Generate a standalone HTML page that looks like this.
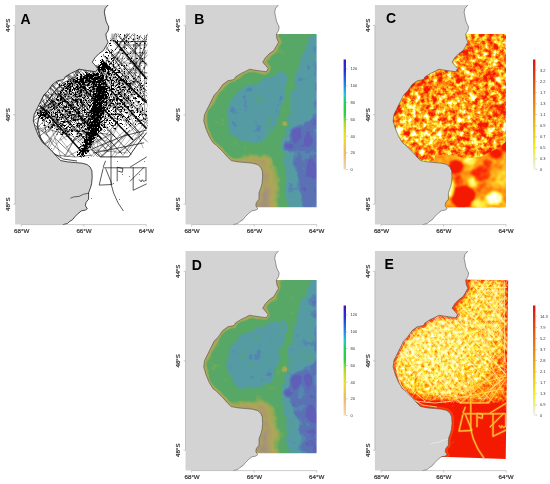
<!DOCTYPE html>
<html><head><meta charset="utf-8"><title>Figure</title><style>html,body{margin:0;padding:0;background:#fff}svg{display:block}</style></head><body>
<svg width="550" height="484" viewBox="0 0 550 484" font-family="'Liberation Sans', sans-serif">
<defs>
<path id="land" d="M0,0 L93.0,0.0 L90.1,3.3 L89.2,7.2 L90.1,11.7 L91.0,16.2 L92.4,19.4 L93.7,21.9 L93.0,25.8 L90.8,29.0 L91.4,33.5 L93.0,37.3 L90.8,41.2 L88.2,45.6 L83.7,48.8 L79.9,52.7 L77.2,57.2 L80.1,60.4 L82.7,63.6 L80.8,66.8 L76.9,66.2 L71.8,65.5 L68.0,64.9 L64.1,64.2 L60.3,66.2 L55.1,68.7 L50.0,71.9 L48.7,74.5 L42.3,75.8 L37.2,79.6 L32.7,86.0 L28.7,90.1 L25.5,96.5 L22.3,103.0 L19.1,109.4 L18.2,115.8 L20.4,123.5 L23.6,131.2 L27.4,137.6 L30.9,140.3 L37.3,146.7 L42.4,152.4 L45.7,155.6 L52.7,156.9 L60.4,157.6 L66.8,158.2 L71.9,159.5 L75.1,162.1 L76.8,165.9 L77.1,172.3 L76.5,178.7 L75.4,182.7 L73.5,187.8 L73.5,194.2 L70.9,197.4 L70.3,200.6 L72.2,203.8 L70.3,205.1 L66.4,205.8 L63.2,208.3 L60.0,211.5 L57.4,214.7 L54.2,216.7 L52.3,218.6 L47.8,219.6 L0,219.6 Z"/>
<path id="coast" d="M93.0,0.0 L90.1,3.3 L89.2,7.2 L90.1,11.7 L91.0,16.2 L92.4,19.4 L93.7,21.9 L93.0,25.8 L90.8,29.0 L91.4,33.5 L93.0,37.3 L90.8,41.2 L88.2,45.6 L83.7,48.8 L79.9,52.7 L77.2,57.2 L80.1,60.4 L82.7,63.6 L80.8,66.8 L76.9,66.2 L71.8,65.5 L68.0,64.9 L64.1,64.2 L60.3,66.2 L55.1,68.7 L50.0,71.9 L48.7,74.5 L42.3,75.8 L37.2,79.6 L32.7,86.0 L28.7,90.1 L25.5,96.5 L22.3,103.0 L19.1,109.4 L18.2,115.8 L20.4,123.5 L23.6,131.2 L27.4,137.6 L30.9,140.3 L37.3,146.7 L42.4,152.4 L45.7,155.6 L52.7,156.9 L60.4,157.6 L66.8,158.2 L71.9,159.5 L75.1,162.1 L76.8,165.9 L77.1,172.3 L76.5,178.7 L75.4,182.7 L73.5,187.8 L73.5,194.2 L70.9,197.4 L70.3,200.6 L72.2,203.8 L70.3,205.1 L66.4,205.8 L63.2,208.3 L60.0,211.5 L57.4,214.7 L54.2,216.7 L52.3,218.6 L47.8,219.6"/>
<clipPath id="dc"><rect x="10.0" y="29.0" width="121.1" height="173.2"/></clipPath>
<clipPath id="dcE"><path d="M10,27.6 L133.3,29.3 L130.8,208.1 L10,203.8 Z"/></clipPath>
<filter id="fB" x="0" y="20" width="140" height="195" filterUnits="userSpaceOnUse" color-interpolation-filters="sRGB">
<feGaussianBlur in="SourceGraphic" stdDeviation="1.8" result="b"/>
<feTurbulence type="fractalNoise" baseFrequency="0.09" numOctaves="4" seed="3" result="n"/>
<feColorMatrix in="n" type="matrix" values="1 0 0 0 0 1 0 0 0 0 1 0 0 0 0 0 0 0 0 1" result="n1"/>
<feComposite in="b" in2="n1" operator="arithmetic" k1="0" k2="1" k3="0.26" k4="-0.13" result="m"/>
<feComponentTransfer in="m"><feFuncR type="table" tableValues="0.620 0.624 0.627 0.631 0.635 0.639 0.643 0.647 0.651 0.654 0.657 0.660 0.664 0.667 0.670 0.673 0.676 0.679 0.682 0.682 0.681 0.680 0.679 0.678 0.678 0.677 0.676 0.675 0.675 0.663 0.651 0.639 0.627 0.616 0.604 0.592 0.580 0.557 0.533 0.510 0.486 0.463 0.439 0.414 0.390 0.365 0.345 0.345 0.345 0.345 0.345 0.345 0.345 0.345 0.345 0.345 0.345 0.345 0.345 0.345 0.341 0.337 0.337 0.337 0.337 0.337 0.337 0.337 0.337 0.337 0.337 0.337 0.337 0.337 0.337 0.334 0.333 0.333 0.333 0.333 0.343 0.353 0.353 0.353 0.353 0.353 0.353 0.353 0.353 0.353 0.365 0.376 0.376 0.376 0.376 0.376 0.376 0.376 0.376 0.376 0.376"/><feFuncG type="table" tableValues="0.557 0.560 0.563 0.566 0.569 0.572 0.575 0.577 0.580 0.584 0.588 0.592 0.596 0.600 0.604 0.608 0.612 0.616 0.620 0.624 0.627 0.631 0.635 0.639 0.643 0.647 0.651 0.655 0.659 0.660 0.661 0.662 0.663 0.664 0.665 0.666 0.667 0.667 0.667 0.667 0.667 0.667 0.667 0.665 0.663 0.660 0.659 0.659 0.659 0.659 0.659 0.659 0.659 0.659 0.659 0.659 0.659 0.659 0.659 0.659 0.647 0.635 0.635 0.635 0.622 0.608 0.608 0.608 0.608 0.608 0.608 0.608 0.608 0.608 0.594 0.547 0.533 0.533 0.533 0.533 0.490 0.447 0.447 0.447 0.447 0.447 0.447 0.447 0.447 0.447 0.412 0.376 0.376 0.376 0.376 0.376 0.376 0.376 0.376 0.376 0.376"/><feFuncB type="table" tableValues="0.502 0.499 0.496 0.493 0.490 0.487 0.484 0.481 0.478 0.470 0.461 0.453 0.444 0.435 0.427 0.418 0.409 0.401 0.392 0.387 0.383 0.378 0.373 0.369 0.364 0.359 0.355 0.350 0.345 0.344 0.343 0.342 0.341 0.340 0.339 0.338 0.337 0.341 0.345 0.349 0.353 0.357 0.361 0.371 0.381 0.392 0.400 0.400 0.400 0.400 0.400 0.400 0.400 0.400 0.400 0.400 0.400 0.400 0.400 0.400 0.461 0.522 0.522 0.522 0.584 0.647 0.647 0.647 0.647 0.647 0.647 0.647 0.647 0.647 0.655 0.682 0.690 0.690 0.690 0.690 0.698 0.706 0.706 0.706 0.706 0.706 0.706 0.706 0.706 0.706 0.714 0.722 0.722 0.722 0.722 0.722 0.722 0.722 0.722 0.722 0.722"/><feFuncA type="linear" slope="0" intercept="1"/></feComponentTransfer>
</filter>
<filter id="fD" x="0" y="20" width="140" height="195" filterUnits="userSpaceOnUse" color-interpolation-filters="sRGB">
<feGaussianBlur in="SourceGraphic" stdDeviation="1.8" result="b"/>
<feTurbulence type="fractalNoise" baseFrequency="0.09" numOctaves="4" seed="11" result="n"/>
<feColorMatrix in="n" type="matrix" values="1 0 0 0 0 1 0 0 0 0 1 0 0 0 0 0 0 0 0 1" result="n1"/>
<feComposite in="b" in2="n1" operator="arithmetic" k1="0" k2="1" k3="0.26" k4="-0.13" result="m"/>
<feComponentTransfer in="m"><feFuncR type="table" tableValues="0.620 0.624 0.627 0.631 0.635 0.639 0.643 0.647 0.651 0.654 0.657 0.660 0.664 0.667 0.670 0.673 0.676 0.679 0.682 0.682 0.681 0.680 0.679 0.678 0.678 0.677 0.676 0.675 0.675 0.663 0.651 0.639 0.627 0.616 0.604 0.592 0.580 0.557 0.533 0.510 0.486 0.463 0.439 0.414 0.390 0.365 0.345 0.345 0.345 0.345 0.345 0.345 0.345 0.345 0.345 0.345 0.345 0.345 0.345 0.345 0.341 0.337 0.337 0.337 0.337 0.337 0.337 0.337 0.337 0.337 0.337 0.337 0.337 0.337 0.337 0.334 0.333 0.333 0.333 0.333 0.343 0.353 0.353 0.353 0.353 0.353 0.353 0.353 0.353 0.353 0.365 0.376 0.376 0.376 0.376 0.376 0.376 0.376 0.376 0.376 0.376"/><feFuncG type="table" tableValues="0.557 0.560 0.563 0.566 0.569 0.572 0.575 0.577 0.580 0.584 0.588 0.592 0.596 0.600 0.604 0.608 0.612 0.616 0.620 0.624 0.627 0.631 0.635 0.639 0.643 0.647 0.651 0.655 0.659 0.660 0.661 0.662 0.663 0.664 0.665 0.666 0.667 0.667 0.667 0.667 0.667 0.667 0.667 0.665 0.663 0.660 0.659 0.659 0.659 0.659 0.659 0.659 0.659 0.659 0.659 0.659 0.659 0.659 0.659 0.659 0.647 0.635 0.635 0.635 0.622 0.608 0.608 0.608 0.608 0.608 0.608 0.608 0.608 0.608 0.594 0.547 0.533 0.533 0.533 0.533 0.490 0.447 0.447 0.447 0.447 0.447 0.447 0.447 0.447 0.447 0.412 0.376 0.376 0.376 0.376 0.376 0.376 0.376 0.376 0.376 0.376"/><feFuncB type="table" tableValues="0.502 0.499 0.496 0.493 0.490 0.487 0.484 0.481 0.478 0.470 0.461 0.453 0.444 0.435 0.427 0.418 0.409 0.401 0.392 0.387 0.383 0.378 0.373 0.369 0.364 0.359 0.355 0.350 0.345 0.344 0.343 0.342 0.341 0.340 0.339 0.338 0.337 0.341 0.345 0.349 0.353 0.357 0.361 0.371 0.381 0.392 0.400 0.400 0.400 0.400 0.400 0.400 0.400 0.400 0.400 0.400 0.400 0.400 0.400 0.400 0.461 0.522 0.522 0.522 0.584 0.647 0.647 0.647 0.647 0.647 0.647 0.647 0.647 0.647 0.655 0.682 0.690 0.690 0.690 0.690 0.698 0.706 0.706 0.706 0.706 0.706 0.706 0.706 0.706 0.706 0.714 0.722 0.722 0.722 0.722 0.722 0.722 0.722 0.722 0.722 0.722"/><feFuncA type="linear" slope="0" intercept="1"/></feComponentTransfer>
</filter>
<filter id="fC" x="0" y="20" width="140" height="195" filterUnits="userSpaceOnUse" color-interpolation-filters="sRGB">
<feGaussianBlur in="SourceGraphic" stdDeviation="1.0" result="b"/>
<feTurbulence type="fractalNoise" baseFrequency="0.22" numOctaves="3" seed="5" result="n"/>
<feColorMatrix in="n" type="matrix" values="1 0 0 0 0 1 0 0 0 0 1 0 0 0 0 0 0 0 0 1" result="n1"/>
<feComposite in="b" in2="n1" operator="arithmetic" k1="0" k2="1.0" k3="1.65" k4="-0.825" result="m"/>
<feComponentTransfer in="m"><feFuncR type="table" tableValues="1.000 1.000 1.000 1.000 1.000 1.000 1.000 1.000 1.000 1.000 1.000 1.000 1.000 1.000 1.000 0.999 0.996 0.994 0.986 0.972 0.957"/><feFuncG type="table" tableValues="1.000 1.000 1.000 0.976 0.952 0.922 0.866 0.809 0.753 0.694 0.635 0.576 0.512 0.446 0.379 0.322 0.271 0.219 0.174 0.138 0.102"/><feFuncB type="table" tableValues="1.000 0.829 0.659 0.513 0.368 0.243 0.204 0.165 0.125 0.106 0.086 0.067 0.055 0.045 0.035 0.031 0.031 0.031 0.027 0.018 0.008"/><feFuncA type="linear" slope="0" intercept="1"/></feComponentTransfer>
</filter>
<filter id="fE" x="0" y="20" width="140" height="195" filterUnits="userSpaceOnUse" color-interpolation-filters="sRGB">
<feGaussianBlur in="SourceGraphic" stdDeviation="2.5" result="b"/>
<feTurbulence type="fractalNoise" baseFrequency="0.3" numOctaves="2" seed="9" result="n"/>
<feColorMatrix in="n" type="matrix" values="1 0 0 0 0 1 0 0 0 0 1 0 0 0 0 0 0 0 0 1" result="n1"/>
<feComposite in="b" in2="n1" operator="arithmetic" k1="0" k2="1.3" k3="1.15" k4="-0.575" result="m"/>
<feComponentTransfer in="m"><feFuncR type="table" tableValues="1.000 1.000 1.000 1.000 1.000 1.000 1.000 1.000 1.000 1.000 1.000 1.000 1.000 1.000 1.000 0.999 0.996 0.994 0.986 0.972 0.957"/><feFuncG type="table" tableValues="1.000 1.000 1.000 0.976 0.952 0.922 0.866 0.809 0.753 0.694 0.635 0.576 0.512 0.446 0.379 0.322 0.271 0.219 0.174 0.138 0.102"/><feFuncB type="table" tableValues="1.000 0.829 0.659 0.513 0.368 0.243 0.204 0.165 0.125 0.106 0.086 0.067 0.055 0.045 0.035 0.031 0.031 0.031 0.027 0.018 0.008"/><feFuncA type="linear" slope="0" intercept="1"/></feComponentTransfer>
</filter>
<filter id="fC2" x="0" y="20" width="140" height="195" filterUnits="userSpaceOnUse" color-interpolation-filters="sRGB">
<feGaussianBlur in="SourceGraphic" stdDeviation="1.5" result="b"/>
<feTurbulence type="fractalNoise" baseFrequency="0.12" numOctaves="2" seed="2" result="n"/>
<feColorMatrix in="n" type="matrix" values="1 0 0 0 0 1 0 0 0 0 1 0 0 0 0 0 0 0 0 1" result="n1"/>
<feComposite in="b" in2="n1" operator="arithmetic" k1="0" k2="1.4" k3="0.5" k4="-0.45" result="m"/>
<feComponentTransfer in="m"><feFuncR type="table" tableValues="1.000 1.000 1.000 1.000 1.000 1.000 1.000 1.000 1.000 1.000 1.000 1.000 1.000 1.000 1.000 0.999 0.996 0.994 0.986 0.972 0.957"/><feFuncG type="table" tableValues="1.000 1.000 1.000 0.976 0.952 0.922 0.866 0.809 0.753 0.694 0.635 0.576 0.512 0.446 0.379 0.322 0.271 0.219 0.174 0.138 0.102"/><feFuncB type="table" tableValues="1.000 0.829 0.659 0.513 0.368 0.243 0.204 0.165 0.125 0.106 0.086 0.067 0.055 0.045 0.035 0.031 0.031 0.031 0.027 0.018 0.008"/><feFuncA type="linear" slope="0" intercept="1"/></feComponentTransfer>
</filter>
<filter id="fA" x="0" y="20" width="140" height="195" filterUnits="userSpaceOnUse" color-interpolation-filters="sRGB">
<feGaussianBlur in="SourceGraphic" stdDeviation="2" result="b"/>
<feTurbulence type="fractalNoise" baseFrequency="0.55" numOctaves="2" seed="4" result="n"/>
<feColorMatrix in="n" type="matrix" values="1 0 0 0 0 1 0 0 0 0 1 0 0 0 0 0 0 0 0 1" result="n1"/>
<feComposite in="b" in2="n1" operator="arithmetic" k1="0" k2="1" k3="1.6" k4="-0.8" result="m"/>
<feComponentTransfer in="m"><feFuncR type="discrete" tableValues="1 1 1 1 1 0.5 0 0 0 0"/><feFuncG type="discrete" tableValues="1 1 1 1 1 0.5 0 0 0 0"/><feFuncB type="discrete" tableValues="1 1 1 1 1 0.5 0 0 0 0"/><feFuncA type="linear" slope="0" intercept="1"/></feComponentTransfer>
</filter>
<linearGradient id="cbD" x1="0" y1="1" x2="0" y2="0">
<stop offset="0" stop-color="#f2d6bc"/>
<stop offset="0.15" stop-color="#f0b868"/>
<stop offset="0.3" stop-color="#efe020"/>
<stop offset="0.42" stop-color="#a8dc28"/>
<stop offset="0.5" stop-color="#30d040"/>
<stop offset="0.62" stop-color="#20d060"/>
<stop offset="0.68" stop-color="#20c8d8"/>
<stop offset="0.78" stop-color="#2080e0"/>
<stop offset="0.9" stop-color="#2030d8"/>
<stop offset="1" stop-color="#4a10c0"/>
</linearGradient>
<linearGradient id="cbH" x1="0" y1="1" x2="0" y2="0">
<stop offset="0" stop-color="#f2f2f2"/>
<stop offset="0.06" stop-color="#eeeebb"/>
<stop offset="0.2" stop-color="#eeee20"/>
<stop offset="0.45" stop-color="#eeb010"/>
<stop offset="0.7" stop-color="#e86a10"/>
<stop offset="1" stop-color="#dd1010"/>
</linearGradient>
<filter id="bl06" x="-20%" y="-20%" width="140%" height="140%"><feGaussianBlur stdDeviation="0.7"/></filter>
<filter id="bl04" x="-20%" y="-20%" width="140%" height="140%"><feGaussianBlur stdDeviation="0.35"/></filter>
<clipPath id="sC"><polygon points="60.0,150.0 76.0,150.0 90.0,153.0 104.7,152.0 114.0,147.5 124.0,143.0 134.0,134.0 134.0,204.0 60.0,204.0"/></clipPath>
<clipPath id="rlE"><polygon points="97,28.3 134,28.3 134,150 100,152 77,152 0,152 0,60 84,60 90,44"/></clipPath>
</defs>
<rect width="550" height="484" fill="#fff"/>
<g transform="translate(15.1,5.0)">
<clipPath id="dcA"><path d="M0,28.3 H132.6 V206 H0 Z"/></clipPath>
<clipPath id="rlA"><polygon points="97,28.3 132.6,28.3 132.6,150 100,152 77,152 0,152 0,60 84,60 90,44"/></clipPath>
<g clip-path="url(#dcA)">
<g filter="url(#fA)">
<rect x="0" y="20" width="140" height="195" fill="#000"/>
<polygon points="97.0,28.0 133.0,28.0 133.0,118.0 100.0,125.0 80.0,130.0 60.0,135.0 42.0,130.0 27.0,121.0 25.0,108.0 34.0,94.0 48.0,81.0 66.0,69.0 82.0,65.0 84.0,52.0 92.0,44.0" fill="#5b5b5b"/>
<polygon points="50.0,78.0 100.0,62.0 118.0,78.0 105.0,115.0 78.0,128.0 50.0,128.0 30.0,118.0 32.0,100.0" fill="#777777"/>
<polygon points="97.0,28.0 133.0,28.0 133.0,75.0 112.0,70.0 97.0,48.0" fill="#444444"/>
<ellipse cx="74" cy="74.5" rx="15" ry="6" fill="#dbdbdb"/>
<ellipse cx="64" cy="81" rx="20" ry="7" fill="#8e8e8e"/>
<polygon points="82.0,78.0 92.0,82.0 83.0,130.0 69.0,153.0 61.0,151.0 73.0,128.0" fill="#d6d6d6"/>
<ellipse cx="80" cy="112" rx="4" ry="14" fill="#e5e5e5"/>
<ellipse cx="88" cy="62" rx="7" ry="5" fill="#cccccc"/>
<ellipse cx="27" cy="110" rx="5" ry="5" fill="#bfbfbf"/>
</g>
<g fill="none" stroke="#000" stroke-linejoin="round">
<polyline points="99.4,35.4 131.5,74.0" stroke-width="1.5"/>
<polyline points="86.9,55.6 131.4,97.6" stroke-width="1.5"/>
<polyline points="82.6,70.9 131.4,123.8" stroke-width="1.4"/>
<polyline points="60.8,75.2 118.0,135.0" stroke-width="1.3"/>
<polyline points="43.3,88.3 86.6,134.0" stroke-width="1.4"/>
<polyline points="24.8,100.4 66.0,146.0" stroke-width="1.3"/>
<polyline points="34.0,95.0 76.0,141.0" stroke-width="0.8"/>
<polyline points="52.0,82.0 100.0,132.0" stroke-width="0.8"/>
<polyline points="72.0,72.0 125.0,128.0" stroke-width="0.8"/>
<polyline points="93.0,45.0 131.5,86.0" stroke-width="0.8"/>
<polyline points="108.0,33.0 131.5,60.0" stroke-width="0.6"/>
<polyline points="76.4,144.2 85.4,151.9 113.6,151.9 122.6,139.1 131.6,127.6" stroke-width="0.8"/>
<polyline points="95.9,125.0 95.9,180.0" stroke-width="0.65"/>
<polyline points="82.8,125.0 96.3,137.2 107.2,149.4" stroke-width="0.7"/>
<polyline points="97.0,128.8 116.2,149.4" stroke-width="0.65"/>
<polyline points="76.4,144.2 107.2,131.4 131.6,125.0" stroke-width="0.65"/>
<polyline points="77.7,148.1 129.0,137.8" stroke-width="0.65"/>
<polyline points="114.9,125.0 85.4,151.9" stroke-width="0.65"/>
<polyline points="129.0,127.6 103.4,148.1" stroke-width="0.65"/>
<polyline points="131.6,151.9 114.9,162.2" stroke-width="0.65"/>
<polyline points="88.0,162.8 131.6,162.8" stroke-width="0.65"/>
<polyline points="88.0,163.5 84.1,180.1 97.0,179.5 90.5,163.5" stroke-width="0.65"/>
<polyline points="102.1,162.2 102.1,176.3" stroke-width="0.65"/>
<polyline points="102.1,162.2 107.8,163.5 107.2,167.3 102.7,166.0" stroke-width="0.65"/>
<polyline points="118.1,162.2 118.1,185.3 131.6,178.8" stroke-width="0.65"/>
<polyline points="129.0,162.2 114.9,176.3" stroke-width="0.65"/>
<polyline points="130.9,163.5 130.9,176.3" stroke-width="0.65"/>
<polyline points="123.9,174.4 126.0,176.8 127.0,174.8 129.0,176.6 130.5,175.0" stroke-width="0.7"/>
<polyline points="96.3,180.1 98.5,188.0 103.0,198.0 109.0,207.0" stroke-width="0.65"/>
<polyline points="90.5,155.8 88.0,162.2" stroke-width="0.65"/>
<polyline points="97.0,28.5 97.0,36.0" stroke-width="0.5"/>
<polyline points="99.0,28.5 99.0,36.0" stroke-width="0.5"/>
<polyline points="101.0,28.5 101.0,35.0" stroke-width="0.5"/>
<polyline points="101.0,36.5 132.0,36.5" stroke-width="0.6"/>
<polyline points="104.0,40.0 132.0,40.0" stroke-width="0.4"/>
<polyline points="120.0,36.0 120.0,80.0" stroke-width="0.5"/>
<polyline points="125.0,36.0 125.0,90.0" stroke-width="0.5"/>
<polyline points="129.5,30.0 129.5,110.0" stroke-width="0.4"/>
<polyline points="112.0,28.5 100.0,45.0" stroke-width="0.6"/>
<polyline points="118.0,28.5 96.0,58.0" stroke-width="0.5"/>
<polyline points="131.0,45.0 104.0,80.0" stroke-width="0.5"/>
<polyline points="131.0,60.0 112.0,88.0" stroke-width="0.5"/>
<polyline points="101.0,48.0 132.0,48.0" stroke-width="0.35"/>
<polyline points="108.0,58.0 132.0,58.0" stroke-width="0.35"/>
<polyline points="110.0,68.0 132.0,68.0" stroke-width="0.35"/>
<polyline points="60.0,72.0 48.0,78.0 38.0,88.0 30.0,100.0 24.0,112.0 22.0,122.0 25.0,132.0 30.0,140.0 38.0,148.0 48.0,154.0 62.0,156.0" stroke-width="0.7"/>
<polyline points="56.0,78.0 44.0,86.0 34.0,100.0 29.0,116.0 31.0,128.0 38.0,140.0 50.0,150.0" stroke-width="0.5"/>
<polyline points="27.0,103.0 22.0,118.0 26.0,134.0 40.0,150.0 60.0,152.0 78.0,150.0" stroke-width="0.45"/>
<g clip-path="url(#rlA)">
<polyline points="59.6,91.6 86.7,126.2" stroke-width="0.35"/>
<polyline points="73.9,65.6 110.2,104.9" stroke-width="0.3"/>
<polyline points="117.4,43.7 125.6,30.4" stroke-width="0.3"/>
<polyline points="47.6,111.2 62.4,98.0" stroke-width="0.3"/>
<polyline points="78.0,97.7 86.3,84.0" stroke-width="0.5"/>
<polyline points="49.9,93.8 69.9,53.3" stroke-width="0.3"/>
<polyline points="38.9,81.9 57.6,58.6" stroke-width="0.4"/>
<polyline points="104.0,73.8 120.3,89.5" stroke-width="0.4"/>
<polyline points="27.6,84.3 58.2,121.5" stroke-width="0.4"/>
<polyline points="37.0,55.3 65.0,87.3" stroke-width="0.4"/>
<polyline points="49.6,83.0 72.9,58.5" stroke-width="0.3"/>
<polyline points="64.1,89.3 80.0,102.5" stroke-width="0.5"/>
<polyline points="3.2,45.1 38.3,79.2" stroke-width="0.3"/>
<polyline points="22.4,57.4 43.6,89.2" stroke-width="0.35"/>
<polyline points="63.5,73.1 94.6,101.5" stroke-width="0.4"/>
<polyline points="107.1,78.3 128.5,48.5" stroke-width="0.35"/>
<polyline points="75.8,55.5 89.2,68.3" stroke-width="0.4"/>
<polyline points="150.2,78.0 109.2,116.4" stroke-width="0.4"/>
<polyline points="69.0,131.0 95.8,164.2" stroke-width="0.3"/>
<polyline points="114.3,108.2 128.2,143.2" stroke-width="0.3"/>
<polyline points="106.5,42.3 92.6,63.1" stroke-width="0.4"/>
<polyline points="70.6,101.7 89.0,126.5" stroke-width="0.4"/>
<polyline points="42.3,94.5 72.1,130.3" stroke-width="0.4"/>
<polyline points="66.3,89.2 83.0,77.2" stroke-width="0.35"/>
<polyline points="66.0,129.6 76.3,142.6" stroke-width="0.3"/>
<polyline points="84.3,52.3 109.9,78.7" stroke-width="0.35"/>
<polyline points="23.6,71.2 52.7,100.3" stroke-width="0.4"/>
<polyline points="97.5,47.7 118.5,24.1" stroke-width="0.4"/>
<polyline points="78.5,56.5 114.0,87.5" stroke-width="0.4"/>
<polyline points="69.1,134.3 77.7,117.9" stroke-width="0.4"/>
<polyline points="110.5,79.1 139.2,124.7" stroke-width="0.3"/>
<polyline points="67.1,94.9 67.8,123.2" stroke-width="0.4"/>
<polyline points="94.2,32.2 128.3,71.6" stroke-width="0.35"/>
<polyline points="29.6,106.0 46.9,125.8" stroke-width="0.3"/>
<polyline points="84.4,105.7 109.1,83.0" stroke-width="0.3"/>
<polyline points="101.5,105.8 117.9,75.5" stroke-width="0.5"/>
<polyline points="19.0,126.4 27.3,136.4" stroke-width="0.35"/>
<polyline points="85.8,68.7 49.8,88.7" stroke-width="0.3"/>
<polyline points="41.4,124.2 93.3,129.2" stroke-width="0.5"/>
<polyline points="65.1,143.8 112.8,148.0" stroke-width="0.3"/>
<polyline points="89.1,57.7 54.1,83.1" stroke-width="0.4"/>
<polyline points="51.1,83.4 8.4,122.2" stroke-width="0.35"/>
<polyline points="23.7,72.4 43.9,92.2" stroke-width="0.4"/>
<polyline points="45.8,120.0 70.9,153.4" stroke-width="0.35"/>
<polyline points="55.6,108.4 70.7,98.6" stroke-width="0.35"/>
<polyline points="75.3,78.8 96.2,99.4" stroke-width="0.5"/>
<polyline points="76.3,64.9 93.0,85.9" stroke-width="0.5"/>
<polyline points="77.1,153.2 102.8,120.2" stroke-width="0.3"/>
<polyline points="36.5,55.9 70.0,83.8" stroke-width="0.3"/>
<polyline points="107.6,101.1 119.4,85.1" stroke-width="0.3"/>
<polyline points="52.0,44.0 86.1,83.8" stroke-width="0.3"/>
<polyline points="62.5,104.5 109.6,70.5" stroke-width="0.4"/>
<polyline points="54.9,97.4 72.9,74.3" stroke-width="0.5"/>
<polyline points="96.7,67.9 119.0,108.5" stroke-width="0.4"/>
<polyline points="99.6,105.8 139.8,143.8" stroke-width="0.5"/>
<polyline points="59.0,58.6 75.2,76.9" stroke-width="0.3"/>
<polyline points="31.4,138.4 55.8,108.6" stroke-width="0.35"/>
<polyline points="30.2,157.1 60.9,109.4" stroke-width="0.3"/>
<polyline points="97.2,105.1 114.2,87.3" stroke-width="0.4"/>
<polyline points="41.3,99.0 23.0,109.1" stroke-width="0.3"/>
<polyline points="65.8,60.8 84.9,85.5" stroke-width="0.5"/>
<polyline points="9.4,79.4 32.4,101.6" stroke-width="0.35"/>
<polyline points="86.2,74.4 132.1,112.3" stroke-width="0.4"/>
<polyline points="88.8,103.4 68.6,143.1" stroke-width="0.35"/>
<polyline points="77.2,63.9 117.9,79.3" stroke-width="0.3"/>
<polyline points="93.9,130.4 68.9,145.0" stroke-width="0.3"/>
<polyline points="79.0,76.6 109.0,51.2" stroke-width="0.3"/>
<polyline points="11.4,94.9 33.2,114.4" stroke-width="0.35"/>
<polyline points="7.6,87.3 41.4,45.3" stroke-width="0.5"/>
<polyline points="108.0,63.4 134.7,68.3" stroke-width="0.35"/>
<polyline points="69.9,86.6 23.6,104.2" stroke-width="0.3"/>
<polyline points="85.4,114.1 51.1,142.6" stroke-width="0.4"/>
<polyline points="34.0,84.2 55.1,65.5" stroke-width="0.4"/>
<polyline points="107.6,150.8 134.3,115.7" stroke-width="0.3"/>
<polyline points="88.0,97.1 67.2,124.6" stroke-width="0.3"/>
<polyline points="109.5,119.9 120.0,102.8" stroke-width="0.3"/>
<polyline points="61.3,128.3 83.9,153.3" stroke-width="0.4"/>
<polyline points="107.8,36.3 135.6,64.2" stroke-width="0.3"/>
<polyline points="96.9,110.9 105.1,99.4" stroke-width="0.4"/>
<polyline points="81.7,62.6 124.4,30.9" stroke-width="0.3"/>
<polyline points="52.9,37.9 23.6,87.4" stroke-width="0.4"/>
<polyline points="94.6,67.1 79.9,101.0" stroke-width="0.5"/>
<polyline points="115.2,24.2 128.0,37.8" stroke-width="0.3"/>
<polyline points="49.2,95.6 10.7,120.7" stroke-width="0.5"/>
<polyline points="14.7,63.4 64.7,67.4" stroke-width="0.35"/>
<polyline points="9.7,111.6 32.5,130.8" stroke-width="0.5"/>
<polyline points="34.2,78.1 43.7,124.7" stroke-width="0.4"/>
<polyline points="53.3,51.5 69.9,75.7" stroke-width="0.35"/>
<polyline points="32.3,93.4 69.0,133.7" stroke-width="0.3"/>
<polyline points="26.0,71.6 40.8,84.5" stroke-width="0.4"/>
<polyline points="88.9,147.2 103.2,119.9" stroke-width="0.3"/>
<polyline points="61.4,87.9 22.5,90.6" stroke-width="0.3"/>
<polyline points="46.5,66.9 67.2,84.6" stroke-width="0.3"/>
<polyline points="48.8,65.0 60.6,77.5" stroke-width="0.3"/>
<polyline points="23.3,145.6 63.0,101.8" stroke-width="0.3"/>
<polyline points="131.3,102.8 129.2,121.5" stroke-width="0.3"/>
<polyline points="108.6,149.1 120.8,132.2" stroke-width="0.3"/>
<polyline points="23.6,93.2 30.3,80.4" stroke-width="0.35"/>
<polyline points="59.6,78.8 74.9,80.8" stroke-width="0.3"/>
<polyline points="137.5,9.0 123.0,65.4" stroke-width="0.5"/>
<polyline points="65.9,150.5 82.1,114.2" stroke-width="0.5"/>
<polyline points="2.4,63.1 39.3,108.6" stroke-width="0.3"/>
<polyline points="95.4,44.4 126.3,83.0" stroke-width="0.3"/>
<polyline points="17.9,80.2 60.3,114.1" stroke-width="0.3"/>
<polyline points="139.8,110.3 121.1,116.9" stroke-width="0.5"/>
<polyline points="47.5,110.0 103.7,113.7" stroke-width="0.5"/>
<polyline points="26.3,154.8 36.9,132.9" stroke-width="0.4"/>
<polyline points="89.3,100.2 98.9,85.3" stroke-width="0.3"/>
<polyline points="114.1,31.0 126.5,43.9" stroke-width="0.4"/>
<polyline points="48.1,85.2 81.3,39.5" stroke-width="0.4"/>
<polyline points="75.4,103.9 89.5,120.7" stroke-width="0.4"/>
<polyline points="80.0,127.4 95.0,142.6" stroke-width="0.3"/>
<polyline points="69.0,63.3 99.6,100.6" stroke-width="0.5"/>
<polyline points="70.9,104.5 80.3,115.9" stroke-width="0.35"/>
<polyline points="94.2,64.5 127.4,102.9" stroke-width="0.4"/>
<polyline points="7.3,154.8 34.9,135.9" stroke-width="0.4"/>
<polyline points="10.0,56.4 39.7,86.6" stroke-width="0.5"/>
<polyline points="63.5,132.6 86.3,166.1" stroke-width="0.3"/>
<polyline points="96.6,51.1 130.4,95.8" stroke-width="0.35"/>
<polyline points="30.1,56.9 36.1,74.4" stroke-width="0.35"/>
<polyline points="82.9,134.1 97.7,137.2" stroke-width="0.3"/>
<polyline points="94.6,23.0 136.2,63.5" stroke-width="0.4"/>
<polyline points="120.1,90.4 132.8,73.7" stroke-width="0.35"/>
<polyline points="100.0,59.2 106.1,48.2" stroke-width="0.5"/>
<polyline points="70.8,112.1 82.3,98.6" stroke-width="0.5"/>
<polyline points="35.2,111.1 73.1,145.5" stroke-width="0.4"/>
<polyline points="59.7,111.2 73.1,87.1" stroke-width="0.5"/>
<polyline points="10.2,74.3 35.9,113.7" stroke-width="0.5"/>
<polyline points="37.2,90.0 23.0,107.6" stroke-width="0.35"/>
<polyline points="113.5,145.9 140.6,110.4" stroke-width="0.4"/>
<polyline points="66.4,150.8 80.8,125.6" stroke-width="0.5"/>
<polyline points="15.0,115.4 48.8,87.9" stroke-width="0.4"/>
<polyline points="54.6,100.5 100.1,72.1" stroke-width="0.4"/>
<polyline points="57.6,91.8 33.3,102.2" stroke-width="0.4"/>
<polyline points="85.0,72.5 118.6,51.0" stroke-width="0.4"/>
<polyline points="48.5,128.7 78.8,81.5" stroke-width="0.3"/>
<polyline points="53.6,125.7 101.8,98.2" stroke-width="0.5"/>
<polyline points="102.3,27.8 109.5,37.7" stroke-width="0.5"/>
<polyline points="55.8,78.9 94.6,124.6" stroke-width="0.3"/>
<polyline points="122.8,73.2 136.8,112.9" stroke-width="0.4"/>
<polyline points="47.4,154.3 68.5,119.9" stroke-width="0.3"/>
<polyline points="43.5,59.5 54.9,72.4" stroke-width="0.5"/>
<polyline points="115.9,50.7 144.6,14.5" stroke-width="0.35"/>
<polyline points="116.7,52.7 125.6,30.3" stroke-width="0.3"/>
<polyline points="63.4,66.3 89.0,95.3" stroke-width="0.35"/>
<polyline points="89.9,89.6 37.5,90.1" stroke-width="0.3"/>
<polyline points="59.7,96.3 99.3,66.9" stroke-width="0.35"/>
<polyline points="39.0,44.1 70.5,78.3" stroke-width="0.3"/>
<polyline points="74.2,61.0 91.5,80.8" stroke-width="0.35"/>
<polyline points="90.4,45.9 107.6,16.0" stroke-width="0.3"/>
<polyline points="11.0,58.5 43.3,108.7" stroke-width="0.3"/>
<polyline points="119.2,28.2 121.7,61.8" stroke-width="0.4"/>
<polyline points="33.0,96.6 45.1,109.0" stroke-width="0.35"/>
<polyline points="51.9,61.7 89.7,103.9" stroke-width="0.4"/>
<polyline points="43.1,58.9 78.6,98.1" stroke-width="0.3"/>
<polyline points="72.2,135.4 92.2,104.6" stroke-width="0.3"/>
<polyline points="80.5,123.0 95.0,98.0" stroke-width="0.5"/>
<polyline points="101.8,40.4 114.7,28.6" stroke-width="0.5"/>
<polyline points="53.6,117.4 93.4,77.8" stroke-width="0.5"/>
<polyline points="68.4,126.4 90.1,143.2" stroke-width="0.3"/>
<polyline points="59.2,95.5 67.8,106.0" stroke-width="0.4"/>
<polyline points="13.4,109.5 57.3,87.5" stroke-width="0.5"/>
<polyline points="82.2,27.3 113.3,75.6" stroke-width="0.5"/>
<polyline points="99.4,98.9 121.7,130.8" stroke-width="0.3"/>
<polyline points="62.1,111.2 93.2,146.8" stroke-width="0.5"/>
<polyline points="36.5,84.2 67.8,113.2" stroke-width="0.3"/>
<polyline points="82.3,155.6 125.2,117.3" stroke-width="0.4"/>
<polyline points="22.1,54.6 50.2,80.7" stroke-width="0.35"/>
<polyline points="29.2,115.4 56.3,130.9" stroke-width="0.35"/>
<polyline points="59.9,124.9 94.2,90.7" stroke-width="0.35"/>
<polyline points="88.7,87.1 73.7,96.2" stroke-width="0.35"/>
<polyline points="25.8,87.0 52.9,52.5" stroke-width="0.3"/>
<polyline points="46.3,102.7 79.8,140.3" stroke-width="0.3"/>
<polyline points="31.0,84.7 52.9,105.4" stroke-width="0.3"/>
<polyline points="23.7,80.3 31.9,108.1" stroke-width="0.35"/>
<polyline points="36.2,125.2 54.9,130.5" stroke-width="0.5"/>
<polyline points="106.0,58.9 115.7,14.1" stroke-width="0.35"/>
<polyline points="58.3,107.3 101.9,148.5" stroke-width="0.35"/>
<polyline points="40.3,76.4 59.2,95.4" stroke-width="0.35"/>
<polyline points="102.9,79.2 123.2,106.7" stroke-width="0.3"/>
<polyline points="35.9,108.2 51.0,127.6" stroke-width="0.35"/>
<polyline points="105.2,87.5 65.1,103.5" stroke-width="0.3"/>
<polyline points="29.9,90.6 43.1,103.2" stroke-width="0.35"/>
<polyline points="70.7,45.0 51.9,94.6" stroke-width="0.4"/>
<polyline points="52.8,51.6 82.9,78.4" stroke-width="0.4"/>
<polyline points="8.6,143.9 47.2,113.0" stroke-width="0.5"/>
<polyline points="31.4,95.1 40.0,104.1" stroke-width="0.4"/>
<polyline points="26.8,57.9 44.5,76.6" stroke-width="0.35"/>
<polyline points="31.5,128.1 53.6,103.5" stroke-width="0.5"/>
<polyline points="44.6,135.8 59.7,124.4" stroke-width="0.3"/>
<polyline points="82.9,63.2 89.3,75.6" stroke-width="0.35"/>
<polyline points="108.8,64.3 141.2,97.9" stroke-width="0.35"/>
<polyline points="78.6,110.0 119.7,76.2" stroke-width="0.35"/>
<polyline points="120.1,64.3 140.3,40.8" stroke-width="0.4"/>
<polyline points="48.5,66.3 72.1,95.0" stroke-width="0.3"/>
<polyline points="52.0,105.6 73.0,77.2" stroke-width="0.5"/>
<polyline points="51.8,105.1 63.4,116.6" stroke-width="0.3"/>
<polyline points="67.3,53.1 49.0,93.7" stroke-width="0.35"/>
<polyline points="24.4,98.8 44.4,58.0" stroke-width="0.35"/>
<polyline points="95.9,128.8 44.4,155.6" stroke-width="0.4"/>
<polyline points="25.9,95.2 48.0,60.1" stroke-width="0.3"/>
<polyline points="26.8,127.2 55.1,90.7" stroke-width="0.3"/>
<polyline points="91.2,54.8 103.1,66.6" stroke-width="0.3"/>
<polyline points="90.8,72.8 116.3,101.4" stroke-width="0.5"/>
<polyline points="18.7,96.6 43.0,117.6" stroke-width="0.35"/>
<polyline points="60.5,106.0 76.1,57.8" stroke-width="0.4"/>
<polyline points="86.7,65.8 41.3,83.0" stroke-width="0.3"/>
<polyline points="44.2,73.7 73.1,102.9" stroke-width="0.3"/>
<polyline points="25.9,87.4 70.3,118.6" stroke-width="0.4"/>
<polyline points="72.8,93.3 87.1,106.7" stroke-width="0.3"/>
<polyline points="56.9,89.7 78.8,115.2" stroke-width="0.3"/>
<polyline points="67.5,67.4 84.8,88.7" stroke-width="0.5"/>
<polyline points="112.7,71.0 151.2,113.1" stroke-width="0.3"/>
<polyline points="104.8,83.7 114.9,108.4" stroke-width="0.3"/>
<polyline points="121.2,96.1 108.4,106.7" stroke-width="0.35"/>
<polyline points="128.6,75.2 107.0,99.1" stroke-width="0.3"/>
<polyline points="95.5,75.5 126.2,48.7" stroke-width="0.3"/>
<polyline points="21.7,128.8 56.0,105.5" stroke-width="0.3"/>
<polyline points="89.6,97.2 142.0,123.3" stroke-width="0.35"/>
<polyline points="93.8,84.6 105.5,96.2" stroke-width="0.5"/>
<polyline points="124.8,50.9 135.5,33.7" stroke-width="0.4"/>
<polyline points="60.6,131.2 43.6,164.3" stroke-width="0.4"/>
<polyline points="81.3,77.8 88.9,67.3" stroke-width="0.3"/>
<polyline points="45.4,106.5 57.8,90.6" stroke-width="0.3"/>
<polyline points="16.8,128.5 47.0,96.8" stroke-width="0.4"/>
<polyline points="16.5,93.1 46.5,124.9" stroke-width="0.4"/>
<polyline points="105.2,84.2 126.6,106.3" stroke-width="0.3"/>
<polyline points="48.5,66.3 36.9,72.6" stroke-width="0.35"/>
<polyline points="28.6,88.6 60.4,116.6" stroke-width="0.3"/>
<polyline points="32.4,111.2 74.8,115.1" stroke-width="0.35"/>
<polyline points="80.0,99.8 107.2,133.2" stroke-width="0.3"/>
<polyline points="42.6,57.7 57.7,72.4" stroke-width="0.5"/>
<polyline points="73.2,112.0 73.1,130.1" stroke-width="0.5"/>
<polyline points="57.5,60.3 83.7,89.3" stroke-width="0.3"/>
<polyline points="73.5,82.3 101.4,114.5" stroke-width="0.5"/>
<polyline points="8.5,120.5 46.2,81.2" stroke-width="0.4"/>
<polyline points="90.7,130.4 106.1,111.6" stroke-width="0.5"/>
<polyline points="113.6,63.1 124.2,73.3" stroke-width="0.4"/>
<polyline points="87.6,145.4 124.7,112.5" stroke-width="0.35"/>
<polyline points="89.5,69.7 108.4,90.5" stroke-width="0.3"/>
<polyline points="39.8,133.2 68.9,160.9" stroke-width="0.5"/>
<polyline points="57.7,109.9 75.7,131.3" stroke-width="0.35"/>
<polyline points="32.9,127.2 41.7,113.2" stroke-width="0.35"/>
<polyline points="95.8,58.3 111.2,74.7" stroke-width="0.35"/>
<polyline points="104.3,90.9 138.6,115.2" stroke-width="0.3"/>
<polyline points="37.5,70.3 30.2,83.9" stroke-width="0.4"/>
<polyline points="45.1,123.3 66.8,81.5" stroke-width="0.3"/>
<polyline points="44.0,109.7 78.2,143.1" stroke-width="0.5"/>
<polyline points="108.1,41.7 126.2,65.2" stroke-width="0.5"/>
<polyline points="67.5,48.0 102.8,81.1" stroke-width="0.35"/>
<polyline points="32.1,50.8 72.1,90.6" stroke-width="0.35"/>
<polyline points="80.0,32.9 118.8,69.8" stroke-width="0.35"/>
<polyline points="84.7,47.3 111.1,73.0" stroke-width="0.5"/>
<polyline points="100.2,49.2 117.8,65.3" stroke-width="0.3"/>
<polyline points="87.4,102.2 105.9,123.7" stroke-width="0.35"/>
<polyline points="27.9,62.2 48.6,85.5" stroke-width="0.5"/>
<polyline points="77.9,77.0 102.4,109.7" stroke-width="0.3"/>
<polyline points="54.1,96.4 89.5,136.7" stroke-width="0.4"/>
<polyline points="109.6,90.1 142.8,129.5" stroke-width="0.4"/>
<polyline points="115.4,48.4 125.6,37.9" stroke-width="0.4"/>
<polyline points="26.5,54.2 39.6,72.8" stroke-width="0.35"/>
<polyline points="23.1,77.8 36.8,90.9" stroke-width="0.3"/>
<polyline points="70.6,45.7 93.9,76.7" stroke-width="0.35"/>
<polyline points="61.2,130.0 79.4,106.0" stroke-width="0.35"/>
<polyline points="60.7,85.7 79.6,66.4" stroke-width="0.4"/>
<polyline points="50.6,117.3 2.6,129.4" stroke-width="0.3"/>
<polyline points="62.4,121.0 87.8,151.3" stroke-width="0.3"/>
<polyline points="102.8,110.6 119.8,86.2" stroke-width="0.4"/>
<polyline points="99.4,95.0 134.4,124.8" stroke-width="0.3"/>
<polyline points="14.0,54.9 43.1,86.1" stroke-width="0.3"/>
<polyline points="110.9,53.0 150.8,89.9" stroke-width="0.3"/>
<polyline points="56.1,136.9 75.4,124.5" stroke-width="0.35"/>
<polyline points="97.6,64.9 130.2,32.8" stroke-width="0.3"/>
<polyline points="83.0,44.7 121.0,82.9" stroke-width="0.3"/>
<polyline points="108.3,75.9 122.9,86.3" stroke-width="0.3"/>
<polyline points="33.5,144.0 61.3,94.7" stroke-width="0.3"/>
<polyline points="52.0,99.3 62.4,107.6" stroke-width="0.3"/>
<polyline points="55.6,98.4 79.7,116.4" stroke-width="0.3"/>
<polyline points="18.3,103.9 33.5,91.3" stroke-width="0.35"/>
<polyline points="84.9,63.7 91.9,94.6" stroke-width="0.4"/>
<polyline points="97.1,154.0 134.9,112.7" stroke-width="0.3"/>
<polyline points="36.7,118.7 51.4,135.2" stroke-width="0.4"/>
<polyline points="86.1,118.0 62.5,137.1" stroke-width="0.5"/>
<polyline points="61.2,86.9 76.1,70.2" stroke-width="0.4"/>
<polyline points="83.4,145.3 93.2,136.3" stroke-width="0.4"/>
<polyline points="81.0,129.0 85.8,165.1" stroke-width="0.3"/>
<polyline points="4.9,101.0 40.9,139.1" stroke-width="0.3"/>
<polyline points="35.5,120.2 47.1,156.2" stroke-width="0.3"/>
<polyline points="33.5,76.0 69.4,111.3" stroke-width="0.5"/>
<polyline points="26.6,80.9 37.2,110.7" stroke-width="0.3"/>
<polyline points="88.7,162.7 113.0,128.1" stroke-width="0.3"/>
<polyline points="20.7,59.0 31.1,70.3" stroke-width="0.35"/>
<polyline points="23.3,90.9 52.7,128.2" stroke-width="0.4"/>
<polyline points="40.3,102.5 29.7,109.3" stroke-width="0.35"/>
<polyline points="44.6,133.0 68.9,163.2" stroke-width="0.3"/>
<polyline points="139.1,111.5 120.9,117.3" stroke-width="0.35"/>
<polyline points="105.4,87.1 87.0,108.8" stroke-width="0.5"/>
<polyline points="36.2,91.4 67.6,48.4" stroke-width="0.35"/>
<polyline points="135.6,40.4 117.6,71.9" stroke-width="0.35"/>
<polyline points="34.5,126.8 41.1,109.6" stroke-width="0.35"/>
</g>
</g>
</g>
<use href="#land" fill="#d3d3d3"/><polyline points="73.9,188.1 68.5,189.2 64.0,191.4 58.7,191.9 55.3,193.2" fill="none" stroke="#111" stroke-width="0.6" stroke-linejoin="round"/><use href="#coast" fill="none" stroke="#000" stroke-width="0.7" stroke-linejoin="round"/>
<g stroke="#9a9a9a" stroke-width="0.5" fill="none">
<path d="M0,20.3 V199.2 M6.1,219.6 H131.2"/>
<path d="M-2,20.3 H0"/>
<path d="M-2,109.8 H0"/>
<path d="M-2,199.2 H0"/>
<path d="M6.1,219.6 v2"/>
<path d="M68.7,219.6 v2"/>
<path d="M131.2,219.6 v2"/>
</g>
<g font-size="6.2" fill="#2a2a2a" stroke="#2a2a2a" stroke-width="0.18" text-anchor="middle">
<text x="6.6" y="228.2">68°W</text>
<text x="68.9" y="228.2">66°W</text>
<text x="131.2" y="228.2">64°W</text>
<text transform="translate(-5.4,20.3) rotate(-90)">44°S</text>
<text transform="translate(-5.4,109.8) rotate(-90)">46°S</text>
<text transform="translate(-5.4,199.2) rotate(-90)">48°S</text>
</g>
<text x="5.5" y="19.1" font-size="14" font-weight="bold" fill="#000">A</text>

</g>
<g transform="translate(185.5,5.0)">
<g clip-path="url(#dc)"><g filter="url(#fB)"><rect x="0" y="20" width="140" height="195" fill="#828282"/>
<polygon points="41.0,114.0 44.0,96.0 54.0,84.0 72.0,77.0 98.0,66.0 104.0,74.0 98.0,100.0 91.0,118.0 86.0,132.0 71.0,139.0 54.0,137.0 44.0,128.0" fill="#b0b0b0"/>
<ellipse cx="66" cy="112" rx="13" ry="14" fill="#b2b2b2"/>
<polygon points="123.0,29.0 134.0,29.0 134.0,70.0 116.0,66.0" fill="#a8a8a8"/>
<polygon points="114.0,48.0 134.0,40.0 134.0,204.0 101.0,204.0 100.0,165.0 96.0,146.0 100.0,118.0 105.0,92.0" fill="#b0b0b0"/>
<rect x="127.5" y="29" width="7" height="180" fill="#bababa"/>
<rect x="130.5" y="60" width="5" height="150" fill="#d6d6d6"/>
<polygon points="108.0,42.0 116.0,45.0 106.0,88.0 97.0,120.0 92.0,150.0 84.0,150.0 90.0,120.0 100.0,88.0" fill="#808080"/>
<polygon points="106.0,124.0 134.0,110.0 134.0,204.0 117.0,204.0 113.0,172.0 103.0,146.0" fill="#d4d4d4"/>
<polygon points="116.0,160.0 134.0,150.0 134.0,204.0 121.0,204.0" fill="#dbdbdb"/>
<ellipse cx="110.7" cy="131" rx="5" ry="8" fill="#f5f5f5"/>
<ellipse cx="122.5" cy="132" rx="4" ry="10" fill="#f5f5f5"/>
<ellipse cx="126" cy="163" rx="5" ry="9" fill="#fafafa"/>
<ellipse cx="103" cy="142" rx="5" ry="4" fill="#ededed"/>
<ellipse cx="85.2" cy="151" rx="2.6" ry="2.6" fill="#ffffff"/>
<ellipse cx="100" cy="118.5" rx="2.6" ry="2.6" fill="#262626"/>
<polygon points="70.0,150.0 92.0,150.0 99.0,165.0 102.0,204.0 60.0,204.0" fill="#858585"/>
<polygon points="40.0,152.0 84.0,148.0 92.0,164.0 96.0,204.0 60.0,204.0" fill="#666666"/>
<polygon points="44.0,154.0 82.0,152.0 89.0,168.0 92.0,204.0 60.0,204.0" fill="#4c4c4c"/>
<polygon points="48.0,155.0 79.0,154.0 85.0,170.0 87.0,204.0 60.0,204.0" fill="#2e2e2e"/>
<polygon points="50.0,156.0 77.0,156.0 81.0,172.0 82.0,204.0 60.0,204.0" fill="#0f0f0f"/>
<use href="#coast" fill="none" stroke="#616161" stroke-width="4.6" stroke-linejoin="round"/>
<use href="#coast" fill="none" stroke="#0d0d0d" stroke-width="2.0" stroke-linejoin="round"/></g></g>
<use href="#land" fill="#d3d3d3"/><use href="#coast" fill="none" stroke="#3a3a3a" stroke-width="0.5" stroke-linejoin="round"/>
<g stroke="#9a9a9a" stroke-width="0.5" fill="none">
<path d="M0,20.3 V199.2 M6.1,219.6 H131.2"/>
<path d="M-2,20.3 H0"/>
<path d="M-2,109.8 H0"/>
<path d="M-2,199.2 H0"/>
<path d="M6.1,219.6 v2"/>
<path d="M68.7,219.6 v2"/>
<path d="M131.2,219.6 v2"/>
</g>
<g font-size="6.2" fill="#2a2a2a" stroke="#2a2a2a" stroke-width="0.18" text-anchor="middle">
<text x="6.6" y="228.2">68°W</text>
<text x="68.9" y="228.2">66°W</text>
<text x="131.2" y="228.2">64°W</text>
<text transform="translate(-5.4,20.3) rotate(-90)">44°S</text>
<text transform="translate(-5.4,109.8) rotate(-90)">46°S</text>
<text transform="translate(-5.4,199.2) rotate(-90)">48°S</text>
</g>
<text x="8.7" y="19.2" font-size="14" font-weight="bold" fill="#000">B</text>
<rect x="158.1" y="54.5" width="2.4" height="110" fill="url(#cbD)"/>
<g font-size="4" fill="#333">
<path d="M160.5,63.9 h1.6" stroke="#777" stroke-width="0.35"/>
<text x="165" y="65.3">120</text>
<path d="M160.5,80.9 h1.6" stroke="#777" stroke-width="0.35"/>
<text x="165" y="82.3">100</text>
<path d="M160.5,97.6 h1.6" stroke="#777" stroke-width="0.35"/>
<text x="165" y="99.0">80</text>
<path d="M160.5,114.3 h1.6" stroke="#777" stroke-width="0.35"/>
<text x="165" y="115.7">60</text>
<path d="M160.5,131.1 h1.6" stroke="#777" stroke-width="0.35"/>
<text x="165" y="132.5">40</text>
<path d="M160.5,147.8 h1.6" stroke="#777" stroke-width="0.35"/>
<text x="165" y="149.2">20</text>
<path d="M160.5,164.5 h1.6" stroke="#777" stroke-width="0.35"/>
<text x="165" y="165.9">0</text>
</g>
</g>
<g transform="translate(374.9,5.0)">
<g clip-path="url(#dc)"><g filter="url(#fC)"><rect x="0" y="20" width="140" height="195" fill="#919191"/>
<ellipse cx="45" cy="125" rx="24" ry="16" fill="#616161"/>
<ellipse cx="36" cy="100" rx="12" ry="14" fill="#6b6b6b"/>
<ellipse cx="75" cy="95" rx="18" ry="14" fill="#7a7a7a"/>
<ellipse cx="105" cy="70" rx="20" ry="30" fill="#8f8f8f"/>
<ellipse cx="100" cy="130" rx="25" ry="18" fill="#999999"/>
<ellipse cx="84" cy="35" rx="6" ry="9" fill="#f2f2f2"/>
<ellipse cx="36.8" cy="114.2" rx="3.1" ry="3.6" fill="#373737"/>
<ellipse cx="110.1" cy="92.5" rx="2.8" ry="2.5" fill="#d9d9d9"/>
<ellipse cx="84.7" cy="38.5" rx="3.5" ry="2.5" fill="#e2e2e2"/>
<ellipse cx="131.7" cy="120.1" rx="3.7" ry="3.3" fill="#2f2f2f"/>
<ellipse cx="74.7" cy="44.1" rx="3.9" ry="4.6" fill="#dfdfdf"/>
<ellipse cx="32.2" cy="143.2" rx="2.6" ry="2.6" fill="#3c3c3c"/>
<ellipse cx="39.3" cy="34.5" rx="3.7" ry="3.0" fill="#f7f7f7"/>
<ellipse cx="128.4" cy="139.1" rx="3.4" ry="3.9" fill="#464646"/>
<ellipse cx="32.0" cy="88.1" rx="3.6" ry="4.4" fill="#fcfcfc"/>
<ellipse cx="64.7" cy="74.6" rx="2.6" ry="2.4" fill="#ffffff"/>
<ellipse cx="21.1" cy="41.4" rx="3.3" ry="3.3" fill="#424242"/>
<ellipse cx="80.7" cy="121.3" rx="2.1" ry="2.2" fill="#454545"/>
<ellipse cx="38.6" cy="50.8" rx="2.4" ry="2.5" fill="#3c3c3c"/>
<ellipse cx="53.0" cy="42.6" rx="1.7" ry="1.5" fill="#4e4e4e"/>
<ellipse cx="95.9" cy="112.5" rx="3.7" ry="4.8" fill="#3f3f3f"/>
<ellipse cx="127.6" cy="102.0" rx="3.7" ry="3.1" fill="#e7e7e7"/>
<ellipse cx="117.9" cy="49.8" rx="1.7" ry="1.7" fill="#4d4d4d"/>
<ellipse cx="113.4" cy="36.4" rx="2.1" ry="1.7" fill="#e9e9e9"/>
<ellipse cx="25.9" cy="71.2" rx="3.7" ry="3.7" fill="#4c4c4c"/>
<ellipse cx="46.8" cy="147.0" rx="2.8" ry="2.3" fill="#2f2f2f"/>
<ellipse cx="113.6" cy="127.0" rx="3.7" ry="3.9" fill="#3f3f3f"/>
<ellipse cx="114.8" cy="67.6" rx="2.8" ry="2.0" fill="#f6f6f6"/>
<ellipse cx="96.1" cy="146.4" rx="1.6" ry="1.9" fill="#484848"/>
<ellipse cx="84.6" cy="61.4" rx="2.5" ry="2.0" fill="#535353"/>
<ellipse cx="28.8" cy="41.5" rx="1.6" ry="1.9" fill="#dedede"/>
<ellipse cx="92.7" cy="45.4" rx="2.8" ry="2.4" fill="#ececec"/>
<ellipse cx="36.9" cy="52.4" rx="2.4" ry="1.8" fill="#444444"/>
<ellipse cx="99.0" cy="136.6" rx="3.4" ry="3.4" fill="#2e2e2e"/>
<ellipse cx="25.2" cy="123.2" rx="1.9" ry="2.2" fill="#383838"/>
<ellipse cx="53.8" cy="35.1" rx="2.5" ry="2.2" fill="#fbfbfb"/>
<ellipse cx="75.4" cy="97.0" rx="3.9" ry="3.9" fill="#f0f0f0"/>
<ellipse cx="101.7" cy="148.0" rx="2.3" ry="2.4" fill="#434343"/>
<ellipse cx="25.3" cy="129.4" rx="3.9" ry="5.1" fill="#3b3b3b"/>
<ellipse cx="30.3" cy="39.3" rx="1.7" ry="1.6" fill="#4d4d4d"/>
<ellipse cx="88.8" cy="32.4" rx="3.1" ry="2.9" fill="#ededed"/>
<ellipse cx="63.8" cy="57.5" rx="1.6" ry="1.8" fill="#e2e2e2"/>
<ellipse cx="111.2" cy="118.3" rx="2.6" ry="2.6" fill="#e7e7e7"/>
<ellipse cx="90.0" cy="147.5" rx="1.7" ry="1.9" fill="#ececec"/>
<ellipse cx="119.5" cy="125.1" rx="3.1" ry="3.7" fill="#494949"/>
<ellipse cx="97.7" cy="113.3" rx="2.1" ry="2.3" fill="#3e3e3e"/>
<ellipse cx="112.0" cy="147.6" rx="4.0" ry="3.5" fill="#e5e5e5"/>
<ellipse cx="62.6" cy="47.7" rx="2.9" ry="3.7" fill="#e4e4e4"/>
<ellipse cx="102.6" cy="86.4" rx="1.8" ry="1.5" fill="#4b4b4b"/>
<ellipse cx="56.2" cy="108.3" rx="3.2" ry="2.9" fill="#fdfdfd"/>
<ellipse cx="47.0" cy="133.1" rx="1.9" ry="2.0" fill="#363636"/>
<ellipse cx="49.6" cy="76.2" rx="3.9" ry="4.1" fill="#e9e9e9"/>
<ellipse cx="50.0" cy="51.3" rx="2.5" ry="3.1" fill="#e0e0e0"/>
<ellipse cx="21.9" cy="128.9" rx="3.8" ry="3.8" fill="#2f2f2f"/>
<ellipse cx="22.5" cy="104.2" rx="3.3" ry="3.3" fill="#d9d9d9"/>
<ellipse cx="28.8" cy="67.7" rx="2.6" ry="2.1" fill="#3d3d3d"/>
<ellipse cx="108.3" cy="130.3" rx="2.8" ry="2.7" fill="#e0e0e0"/>
<ellipse cx="80.9" cy="57.5" rx="3.5" ry="4.3" fill="#545454"/>
<ellipse cx="20.0" cy="101.0" rx="1.7" ry="2.0" fill="#4c4c4c"/>
<ellipse cx="39.5" cy="37.3" rx="3.5" ry="3.5" fill="#474747"/>
<ellipse cx="109.2" cy="71.2" rx="2.2" ry="2.3" fill="#e4e4e4"/>
<ellipse cx="119.5" cy="38.7" rx="1.7" ry="1.4" fill="#4a4a4a"/>
<ellipse cx="48.8" cy="37.2" rx="1.6" ry="1.7" fill="#f3f3f3"/>
<ellipse cx="36.0" cy="42.7" rx="3.8" ry="4.3" fill="#3f3f3f"/>
<ellipse cx="101.0" cy="94.0" rx="1.7" ry="1.2" fill="#373737"/>
<ellipse cx="58.2" cy="95.0" rx="3.1" ry="3.1" fill="#f4f4f4"/>
<ellipse cx="36.5" cy="133.8" rx="3.5" ry="2.9" fill="#4a4a4a"/>
<ellipse cx="106.7" cy="140.1" rx="2.8" ry="2.6" fill="#555555"/>
<ellipse cx="125.4" cy="144.3" rx="3.5" ry="3.7" fill="#e6e6e6"/>
<ellipse cx="87.2" cy="122.2" rx="3.1" ry="3.2" fill="#fcfcfc"/>
<ellipse cx="118.5" cy="55.2" rx="4.0" ry="4.6" fill="#4e4e4e"/>
<ellipse cx="118.6" cy="74.2" rx="1.7" ry="1.7" fill="#e0e0e0"/>
<ellipse cx="110.9" cy="74.2" rx="1.8" ry="1.9" fill="#e9e9e9"/>
<ellipse cx="21.0" cy="111.2" rx="2.0" ry="2.1" fill="#fcfcfc"/>
<ellipse cx="120.0" cy="92.7" rx="1.8" ry="2.0" fill="#e9e9e9"/>
<ellipse cx="105.9" cy="121.7" rx="3.1" ry="2.9" fill="#e9e9e9"/>
<ellipse cx="73.8" cy="62.4" rx="2.8" ry="3.4" fill="#dadada"/>
<ellipse cx="84.9" cy="127.9" rx="3.3" ry="3.1" fill="#565656"/>
<ellipse cx="62.9" cy="30.5" rx="3.2" ry="4.1" fill="#454545"/>
<ellipse cx="40.4" cy="57.7" rx="3.3" ry="2.4" fill="#424242"/>
<ellipse cx="60.2" cy="130.8" rx="2.7" ry="3.0" fill="#3e3e3e"/>
<ellipse cx="86.2" cy="114.6" rx="3.7" ry="3.1" fill="#3d3d3d"/>
<ellipse cx="107.1" cy="126.7" rx="3.8" ry="4.7" fill="#f9f9f9"/>
<ellipse cx="26.8" cy="67.6" rx="3.1" ry="2.6" fill="#f9f9f9"/>
<ellipse cx="95.8" cy="66.1" rx="2.0" ry="2.3" fill="#ececec"/>
<ellipse cx="42.8" cy="113.7" rx="2.3" ry="1.9" fill="#3d3d3d"/>
<ellipse cx="34.1" cy="37.0" rx="3.2" ry="4.0" fill="#dddddd"/>
<ellipse cx="92.6" cy="32.6" rx="3.3" ry="3.3" fill="#404040"/>
<ellipse cx="127.7" cy="75.6" rx="3.1" ry="2.8" fill="#3d3d3d"/>
<ellipse cx="104.1" cy="107.6" rx="2.6" ry="3.1" fill="#373737"/>
<ellipse cx="20.3" cy="108.5" rx="2.6" ry="2.8" fill="#efefef"/>
<ellipse cx="27.9" cy="89.8" rx="1.9" ry="1.7" fill="#3b3b3b"/>
<ellipse cx="42.6" cy="35.9" rx="2.0" ry="2.4" fill="#f1f1f1"/>
<ellipse cx="43.2" cy="43.6" rx="2.8" ry="3.3" fill="#e8e8e8"/>
<ellipse cx="41.2" cy="115.4" rx="2.8" ry="3.0" fill="#e2e2e2"/>
<ellipse cx="29.0" cy="54.8" rx="2.9" ry="3.2" fill="#434343"/>
<ellipse cx="19.0" cy="66.9" rx="2.3" ry="2.7" fill="#3c3c3c"/>
<ellipse cx="21.9" cy="90.8" rx="3.7" ry="3.0" fill="#464646"/>
<ellipse cx="123.6" cy="39.7" rx="3.9" ry="4.0" fill="#4b4b4b"/>
<ellipse cx="36.7" cy="71.6" rx="3.2" ry="3.7" fill="#3e3e3e"/>
<ellipse cx="24.1" cy="65.0" rx="1.7" ry="2.0" fill="#f7f7f7"/>
<ellipse cx="35.0" cy="67.6" rx="1.8" ry="1.5" fill="#404040"/>
<ellipse cx="60.7" cy="135.6" rx="2.6" ry="2.5" fill="#484848"/>
<ellipse cx="81.4" cy="74.4" rx="2.0" ry="1.8" fill="#e4e4e4"/>
<ellipse cx="39.3" cy="141.4" rx="2.6" ry="2.1" fill="#dadada"/>
<ellipse cx="117.0" cy="71.1" rx="3.2" ry="3.1" fill="#f2f2f2"/>
<ellipse cx="101.9" cy="94.5" rx="2.4" ry="2.9" fill="#efefef"/>
<ellipse cx="96.8" cy="88.6" rx="2.3" ry="1.8" fill="#505050"/>
<ellipse cx="95.4" cy="124.2" rx="3.2" ry="2.7" fill="#525252"/>
<ellipse cx="131.6" cy="70.0" rx="2.4" ry="2.3" fill="#353535"/>
<ellipse cx="89.4" cy="63.3" rx="2.2" ry="2.5" fill="#474747"/>
<ellipse cx="108.1" cy="136.4" rx="3.7" ry="3.7" fill="#565656"/>
<ellipse cx="98.0" cy="92.7" rx="3.9" ry="4.3" fill="#3f3f3f"/>
<ellipse cx="51.6" cy="45.8" rx="2.5" ry="1.9" fill="#d9d9d9"/>
<ellipse cx="69.8" cy="123.1" rx="1.6" ry="1.6" fill="#323232"/>
<ellipse cx="51.7" cy="84.4" rx="3.3" ry="3.7" fill="#e8e8e8"/>
<ellipse cx="31.2" cy="72.6" rx="3.3" ry="2.8" fill="#565656"/>
<ellipse cx="89.3" cy="68.1" rx="3.3" ry="3.0" fill="#333333"/>
<ellipse cx="124.7" cy="73.0" rx="3.1" ry="3.6" fill="#393939"/>
<ellipse cx="18.4" cy="71.5" rx="1.9" ry="1.4" fill="#e1e1e1"/>
<ellipse cx="109.6" cy="51.2" rx="2.9" ry="3.5" fill="#515151"/>
<ellipse cx="88.9" cy="50.6" rx="3.4" ry="3.0" fill="#fcfcfc"/>
<ellipse cx="46.8" cy="56.4" rx="2.5" ry="2.9" fill="#515151"/>
<ellipse cx="101.1" cy="59.8" rx="2.3" ry="2.8" fill="#e9e9e9"/>
<ellipse cx="131.5" cy="40.2" rx="3.9" ry="4.4" fill="#414141"/>
<ellipse cx="107.4" cy="52.8" rx="3.0" ry="3.8" fill="#525252"/>
<ellipse cx="27.7" cy="117.2" rx="2.7" ry="2.8" fill="#353535"/>
<ellipse cx="31.7" cy="128.1" rx="3.3" ry="2.6" fill="#e5e5e5"/>
<ellipse cx="90.4" cy="106.9" rx="1.7" ry="1.6" fill="#555555"/>
<ellipse cx="83.5" cy="74.3" rx="3.0" ry="3.5" fill="#eaeaea"/>
<ellipse cx="39.3" cy="66.4" rx="3.4" ry="4.3" fill="#dbdbdb"/>
<ellipse cx="36.2" cy="80.1" rx="2.3" ry="2.3" fill="#e6e6e6"/>
<ellipse cx="31.2" cy="95.1" rx="1.6" ry="1.4" fill="#e0e0e0"/>
<ellipse cx="56.9" cy="65.5" rx="3.6" ry="4.2" fill="#414141"/>
<ellipse cx="96.2" cy="68.5" rx="3.0" ry="3.5" fill="#444444"/>
<ellipse cx="90.1" cy="143.2" rx="2.2" ry="2.2" fill="#565656"/>
<ellipse cx="121.2" cy="41.6" rx="3.3" ry="3.2" fill="#f5f5f5"/>
<ellipse cx="79.0" cy="60.3" rx="2.1" ry="2.3" fill="#484848"/>
<ellipse cx="31.2" cy="65.8" rx="3.9" ry="4.4" fill="#ededed"/>
<ellipse cx="76.2" cy="97.6" rx="3.9" ry="3.8" fill="#383838"/>
<ellipse cx="65.8" cy="113.4" rx="3.2" ry="3.1" fill="#f3f3f3"/>
<ellipse cx="19.7" cy="65.6" rx="2.4" ry="3.2" fill="#f2f2f2"/>
<ellipse cx="124.2" cy="106.8" rx="3.6" ry="4.5" fill="#efefef"/>
<ellipse cx="24.8" cy="74.2" rx="2.4" ry="1.8" fill="#e9e9e9"/>
<ellipse cx="95.4" cy="146.7" rx="2.1" ry="2.5" fill="#e6e6e6"/>
<ellipse cx="43.8" cy="124.1" rx="1.9" ry="2.1" fill="#4b4b4b"/>
<ellipse cx="27.6" cy="146.7" rx="3.6" ry="3.8" fill="#515151"/>
<ellipse cx="37.2" cy="78.4" rx="3.6" ry="2.8" fill="#dadada"/>
<ellipse cx="39.2" cy="101.5" rx="3.1" ry="4.0" fill="#3e3e3e"/>
<ellipse cx="57.1" cy="112.0" rx="2.0" ry="1.5" fill="#353535"/>
<ellipse cx="56.4" cy="44.0" rx="2.5" ry="2.9" fill="#444444"/>
<ellipse cx="72.4" cy="40.3" rx="3.3" ry="4.3" fill="#f5f5f5"/>
<ellipse cx="77.8" cy="60.6" rx="2.4" ry="1.8" fill="#e5e5e5"/>
<ellipse cx="63.4" cy="110.0" rx="3.5" ry="4.2" fill="#525252"/>
<ellipse cx="64.9" cy="108.6" rx="1.6" ry="1.4" fill="#4b4b4b"/>
<ellipse cx="71.8" cy="63.2" rx="3.5" ry="4.4" fill="#f7f7f7"/></g><g clip-path="url(#sC)"><g filter="url(#fC2)">
<rect x="0" y="20" width="140" height="195" fill="#808080"/>
<ellipse cx="81" cy="162" rx="7" ry="7" fill="#ededed"/>
<ellipse cx="84" cy="176" rx="4" ry="6" fill="#c7c7c7"/>
<ellipse cx="88" cy="192" rx="12" ry="11" fill="#f2f2f2"/>
<ellipse cx="121" cy="149" rx="6" ry="5" fill="#ededed"/>
<ellipse cx="131" cy="141" rx="5" ry="6" fill="#ededed"/>
<ellipse cx="105" cy="169" rx="10" ry="7" fill="#c7c7c7"/>
<ellipse cx="110" cy="184" rx="8" ry="6" fill="#999999"/>
<ellipse cx="119" cy="193" rx="8" ry="7" fill="#242424"/>
<ellipse cx="76" cy="184" rx="4" ry="9" fill="#333333"/>
<ellipse cx="97" cy="176" rx="4" ry="6" fill="#474747"/>
<ellipse cx="127" cy="172" rx="6" ry="7" fill="#616161"/>
<ellipse cx="104" cy="199" rx="8" ry="5" fill="#525252"/>
<ellipse cx="95" cy="156" rx="7" ry="4" fill="#4c4c4c"/>
<ellipse cx="113" cy="158" rx="5" ry="4" fill="#b2b2b2"/>
</g></g></g>
<use href="#land" fill="#d3d3d3"/><use href="#coast" fill="none" stroke="#3a3a3a" stroke-width="0.5" stroke-linejoin="round"/>
<g stroke="#9a9a9a" stroke-width="0.5" fill="none">
<path d="M0,20.3 V199.2 M6.1,219.6 H131.2"/>
<path d="M-2,20.3 H0"/>
<path d="M-2,109.8 H0"/>
<path d="M-2,199.2 H0"/>
<path d="M6.1,219.6 v2"/>
<path d="M68.7,219.6 v2"/>
<path d="M131.2,219.6 v2"/>
</g>
<g font-size="6.2" fill="#2a2a2a" stroke="#2a2a2a" stroke-width="0.18" text-anchor="middle">
<text x="6.6" y="228.2">68°W</text>
<text x="68.9" y="228.2">66°W</text>
<text x="131.2" y="228.2">64°W</text>
<text transform="translate(-5.4,20.3) rotate(-90)">44°S</text>
<text transform="translate(-5.4,109.8) rotate(-90)">46°S</text>
<text transform="translate(-5.4,199.2) rotate(-90)">48°S</text>
</g>
<text x="11.2" y="18.4" font-size="14" font-weight="bold" fill="#000">C</text>
<rect x="158.1" y="54.5" width="2.4" height="110" fill="url(#cbH)"/>
<g font-size="4" fill="#333">
<path d="M160.5,65.2 h1.6" stroke="#777" stroke-width="0.35"/>
<text x="165" y="66.6">3.2</text>
<path d="M160.5,76.5 h1.6" stroke="#777" stroke-width="0.35"/>
<text x="165" y="77.9">2.2</text>
<path d="M160.5,87.5 h1.6" stroke="#777" stroke-width="0.35"/>
<text x="165" y="88.9">1.7</text>
<path d="M160.5,98.8 h1.6" stroke="#777" stroke-width="0.35"/>
<text x="165" y="100.2">1.3</text>
<path d="M160.5,109.5 h1.6" stroke="#777" stroke-width="0.35"/>
<text x="165" y="110.9">1.1</text>
<path d="M160.5,120.8 h1.6" stroke="#777" stroke-width="0.35"/>
<text x="165" y="122.2">0.9</text>
<path d="M160.5,131.8 h1.6" stroke="#777" stroke-width="0.35"/>
<text x="165" y="133.2">0.7</text>
<path d="M160.5,142.8 h1.6" stroke="#777" stroke-width="0.35"/>
<text x="165" y="144.2">0.5</text>
<path d="M160.5,153.9 h1.6" stroke="#777" stroke-width="0.35"/>
<text x="165" y="155.3">0.3</text>
<path d="M160.5,164.2 h1.6" stroke="#777" stroke-width="0.35"/>
<text x="165" y="165.6">0</text>
</g>
</g>
<g transform="translate(185.5,251.0)">
<g clip-path="url(#dc)"><g filter="url(#fD)"><rect x="0" y="20" width="140" height="195" fill="#828282"/>
<polygon points="41.0,114.0 44.0,96.0 54.0,84.0 72.0,77.0 98.0,66.0 104.0,74.0 98.0,100.0 91.0,118.0 86.0,132.0 71.0,139.0 54.0,137.0 44.0,128.0" fill="#b0b0b0"/>
<ellipse cx="66" cy="112" rx="13" ry="14" fill="#b2b2b2"/>
<polygon points="123.0,29.0 134.0,29.0 134.0,70.0 116.0,66.0" fill="#a8a8a8"/>
<polygon points="114.0,48.0 134.0,40.0 134.0,204.0 101.0,204.0 100.0,165.0 96.0,146.0 100.0,118.0 105.0,92.0" fill="#b0b0b0"/>
<rect x="127.5" y="29" width="7" height="180" fill="#bababa"/>
<rect x="130.5" y="60" width="5" height="150" fill="#d6d6d6"/>
<polygon points="108.0,42.0 116.0,45.0 106.0,88.0 97.0,120.0 92.0,150.0 84.0,150.0 90.0,120.0 100.0,88.0" fill="#808080"/>
<polygon points="106.0,124.0 134.0,110.0 134.0,204.0 117.0,204.0 113.0,172.0 103.0,146.0" fill="#d4d4d4"/>
<polygon points="116.0,160.0 134.0,150.0 134.0,204.0 121.0,204.0" fill="#dbdbdb"/>
<ellipse cx="110.7" cy="131" rx="5" ry="8" fill="#f5f5f5"/>
<ellipse cx="122.5" cy="132" rx="4" ry="10" fill="#f5f5f5"/>
<ellipse cx="126" cy="163" rx="5" ry="9" fill="#fafafa"/>
<ellipse cx="103" cy="142" rx="5" ry="4" fill="#ededed"/>
<ellipse cx="85.2" cy="151" rx="2.6" ry="2.6" fill="#ffffff"/>
<ellipse cx="100" cy="118.5" rx="2.6" ry="2.6" fill="#262626"/>
<polygon points="70.0,150.0 92.0,150.0 99.0,165.0 102.0,204.0 60.0,204.0" fill="#858585"/>
<polygon points="40.0,152.0 84.0,148.0 92.0,164.0 96.0,204.0 60.0,204.0" fill="#666666"/>
<polygon points="44.0,154.0 82.0,152.0 89.0,168.0 92.0,204.0 60.0,204.0" fill="#4c4c4c"/>
<polygon points="48.0,155.0 79.0,154.0 85.0,170.0 87.0,204.0 60.0,204.0" fill="#2e2e2e"/>
<polygon points="50.0,156.0 77.0,156.0 81.0,172.0 82.0,204.0 60.0,204.0" fill="#0f0f0f"/>
<use href="#coast" fill="none" stroke="#616161" stroke-width="4.6" stroke-linejoin="round"/>
<use href="#coast" fill="none" stroke="#0d0d0d" stroke-width="2.0" stroke-linejoin="round"/></g></g>
<use href="#land" fill="#d3d3d3"/><use href="#coast" fill="none" stroke="#3a3a3a" stroke-width="0.5" stroke-linejoin="round"/>
<g stroke="#9a9a9a" stroke-width="0.5" fill="none">
<path d="M0,20.3 V199.2 M6.1,219.6 H131.2"/>
<path d="M-2,20.3 H0"/>
<path d="M-2,109.8 H0"/>
<path d="M-2,199.2 H0"/>
<path d="M6.1,219.6 v2"/>
<path d="M68.7,219.6 v2"/>
<path d="M131.2,219.6 v2"/>
</g>
<g font-size="6.2" fill="#2a2a2a" stroke="#2a2a2a" stroke-width="0.18" text-anchor="middle">
<text x="6.6" y="228.2">68°W</text>
<text x="68.9" y="228.2">66°W</text>
<text x="131.2" y="228.2">64°W</text>
<text transform="translate(-5.4,20.3) rotate(-90)">44°S</text>
<text transform="translate(-5.4,109.8) rotate(-90)">46°S</text>
<text transform="translate(-5.4,199.2) rotate(-90)">48°S</text>
</g>
<text x="6.2" y="18.6" font-size="14" font-weight="bold" fill="#000">D</text>
<rect x="158.1" y="54.5" width="2.4" height="110" fill="url(#cbD)"/>
<g font-size="4" fill="#333">
<path d="M160.5,63.9 h1.6" stroke="#777" stroke-width="0.35"/>
<text x="165" y="65.3">120</text>
<path d="M160.5,80.9 h1.6" stroke="#777" stroke-width="0.35"/>
<text x="165" y="82.3">100</text>
<path d="M160.5,97.6 h1.6" stroke="#777" stroke-width="0.35"/>
<text x="165" y="99.0">80</text>
<path d="M160.5,114.3 h1.6" stroke="#777" stroke-width="0.35"/>
<text x="165" y="115.7">60</text>
<path d="M160.5,131.1 h1.6" stroke="#777" stroke-width="0.35"/>
<text x="165" y="132.5">40</text>
<path d="M160.5,147.8 h1.6" stroke="#777" stroke-width="0.35"/>
<text x="165" y="149.2">20</text>
<path d="M160.5,164.5 h1.6" stroke="#777" stroke-width="0.35"/>
<text x="165" y="165.9">0</text>
</g>
</g>
<g transform="translate(374.9,251.0)">
<g clip-path="url(#dcE)"><g filter="url(#fE)"><rect x="0" y="20" width="140" height="195" fill="#ffffff"/>
<polygon points="10.0,112.0 24.0,88.0 46.0,70.0 78.0,60.0 88.0,28.0 135.0,28.0 135.0,150.0 108.0,152.0 84.0,151.0 50.0,150.0 24.0,140.0" fill="#707070"/>
<polygon points="16.0,112.0 28.0,90.0 50.0,73.0 80.0,64.0 92.0,40.0 125.0,34.0 124.0,95.0 114.0,122.0 100.0,138.0 80.0,145.0 50.0,145.0 28.0,136.0" fill="#3d3d3d"/>
<ellipse cx="62" cy="102" rx="30" ry="24" fill="#333333"/>
<polygon points="96.0,28.0 135.0,28.0 135.0,100.0 112.0,100.0 100.0,70.0" fill="#474747"/>
<rect x="129" y="28" width="6" height="130" fill="#9e9e9e"/></g><use href="#coast" fill="none" stroke="#ff4208" stroke-width="4.4" opacity="0.9" filter="url(#bl06)"/>
<g fill="none" stroke="#ff9a20" stroke-linejoin="round" opacity="0.55" filter="url(#bl06)">
<polyline points="76.4,144.2 85.4,151.9 113.6,151.9 122.6,139.1 131.6,127.6" stroke-width="2.4"/>
<polyline points="95.9,125.0 95.9,180.0" stroke-width="2.4"/>
<polyline points="82.8,125.0 96.3,137.2 107.2,149.4" stroke-width="2.4"/>
<polyline points="97.0,128.8 116.2,149.4" stroke-width="2.4"/>
<polyline points="76.4,144.2 107.2,131.4 131.6,125.0" stroke-width="2.4"/>
<polyline points="77.7,148.1 129.0,137.8" stroke-width="2.4"/>
<polyline points="114.9,125.0 85.4,151.9" stroke-width="2.4"/>
<polyline points="129.0,127.6 103.4,148.1" stroke-width="2.4"/>
<polyline points="131.6,151.9 114.9,162.2" stroke-width="2.4"/>
<polyline points="88.0,162.8 131.6,162.8" stroke-width="2.4"/>
<polyline points="88.0,163.5 84.1,180.1 97.0,179.5 90.5,163.5" stroke-width="2.4"/>
<polyline points="102.1,162.2 102.1,176.3" stroke-width="2.4"/>
<polyline points="102.1,162.2 107.8,163.5 107.2,167.3 102.7,166.0" stroke-width="2.4"/>
<polyline points="118.1,162.2 118.1,185.3 131.6,178.8" stroke-width="2.4"/>
<polyline points="129.0,162.2 114.9,176.3" stroke-width="2.4"/>
<polyline points="130.9,163.5 130.9,176.3" stroke-width="2.4"/>
<polyline points="123.9,174.4 126.0,176.8 127.0,174.8 129.0,176.6 130.5,175.0" stroke-width="2.4"/>
<polyline points="96.3,180.1 98.5,188.0 103.0,198.0 109.0,207.0" stroke-width="2.4"/>
<polyline points="90.5,155.8 88.0,162.2" stroke-width="2.4"/>
</g>
<g fill="none" stroke-linejoin="round" opacity="0.9" filter="url(#bl04)">
<g stroke="#ffe648">
<polyline points="76.4,144.2 85.4,151.9 113.6,151.9 122.6,139.1 131.6,127.6" stroke-width="0.90"/>
<polyline points="95.9,125.0 95.9,180.0" stroke-width="0.90"/>
<polyline points="82.8,125.0 96.3,137.2 107.2,149.4" stroke-width="0.90"/>
<polyline points="97.0,128.8 116.2,149.4" stroke-width="0.90"/>
<polyline points="76.4,144.2 107.2,131.4 131.6,125.0" stroke-width="0.90"/>
<polyline points="77.7,148.1 129.0,137.8" stroke-width="0.90"/>
<polyline points="114.9,125.0 85.4,151.9" stroke-width="0.90"/>
<polyline points="129.0,127.6 103.4,148.1" stroke-width="0.90"/>
<polyline points="131.6,151.9 114.9,162.2" stroke-width="0.90"/>
<polyline points="88.0,162.8 131.6,162.8" stroke-width="0.90"/>
<polyline points="88.0,163.5 84.1,180.1 97.0,179.5 90.5,163.5" stroke-width="0.90"/>
<polyline points="102.1,162.2 102.1,176.3" stroke-width="0.90"/>
<polyline points="102.1,162.2 107.8,163.5 107.2,167.3 102.7,166.0" stroke-width="0.90"/>
<polyline points="118.1,162.2 118.1,185.3 131.6,178.8" stroke-width="0.90"/>
<polyline points="129.0,162.2 114.9,176.3" stroke-width="0.90"/>
<polyline points="130.9,163.5 130.9,176.3" stroke-width="0.90"/>
<polyline points="123.9,174.4 126.0,176.8 127.0,174.8 129.0,176.6 130.5,175.0" stroke-width="0.90"/>
<polyline points="96.3,180.1 98.5,188.0 103.0,198.0 109.0,207.0" stroke-width="0.90"/>
<polyline points="90.5,155.8 88.0,162.2" stroke-width="0.90"/>
</g><g stroke="#fff6a0">
<polyline points="99.4,35.4 131.5,74.0" stroke-width="1.20"/>
<polyline points="86.9,55.6 131.4,97.6" stroke-width="1.20"/>
<polyline points="82.6,70.9 131.4,123.8" stroke-width="1.12"/>
<polyline points="60.8,75.2 118.0,135.0" stroke-width="1.04"/>
<polyline points="43.3,88.3 86.6,134.0" stroke-width="1.12"/>
<polyline points="24.8,100.4 66.0,146.0" stroke-width="1.04"/>
<polyline points="34.0,95.0 76.0,141.0" stroke-width="0.80"/>
<polyline points="52.0,82.0 100.0,132.0" stroke-width="0.80"/>
<polyline points="72.0,72.0 125.0,128.0" stroke-width="0.80"/>
<polyline points="93.0,45.0 131.5,86.0" stroke-width="0.80"/>
<polyline points="108.0,33.0 131.5,60.0" stroke-width="0.80"/>
<polyline points="97.0,28.5 97.0,36.0" stroke-width="0.80"/>
<polyline points="99.0,28.5 99.0,36.0" stroke-width="0.80"/>
<polyline points="101.0,28.5 101.0,35.0" stroke-width="0.80"/>
<polyline points="101.0,36.5 132.0,36.5" stroke-width="0.80"/>
<polyline points="104.0,40.0 132.0,40.0" stroke-width="0.80"/>
<polyline points="120.0,36.0 120.0,80.0" stroke-width="0.80"/>
<polyline points="125.0,36.0 125.0,90.0" stroke-width="0.80"/>
<polyline points="129.5,30.0 129.5,110.0" stroke-width="0.80"/>
<polyline points="112.0,28.5 100.0,45.0" stroke-width="0.80"/>
<polyline points="118.0,28.5 96.0,58.0" stroke-width="0.80"/>
<polyline points="131.0,45.0 104.0,80.0" stroke-width="0.80"/>
<polyline points="131.0,60.0 112.0,88.0" stroke-width="0.80"/>
<polyline points="101.0,48.0 132.0,48.0" stroke-width="0.80"/>
<polyline points="108.0,58.0 132.0,58.0" stroke-width="0.80"/>
<polyline points="110.0,68.0 132.0,68.0" stroke-width="0.80"/>
<polyline points="60.0,72.0 48.0,78.0 38.0,88.0 30.0,100.0 24.0,112.0 22.0,122.0 25.0,132.0 30.0,140.0 38.0,148.0 48.0,154.0 62.0,156.0" stroke-width="0.80"/>
<polyline points="56.0,78.0 44.0,86.0 34.0,100.0 29.0,116.0 31.0,128.0 38.0,140.0 50.0,150.0" stroke-width="0.80"/>
<polyline points="27.0,103.0 22.0,118.0 26.0,134.0 40.0,150.0 60.0,152.0 78.0,150.0" stroke-width="0.80"/>
</g>
<g clip-path="url(#rlE)" opacity="0.8" stroke="#fffbc0">
<polyline points="59.6,91.6 86.7,126.2" stroke-width="0.55"/>
<polyline points="73.9,65.6 110.2,104.9" stroke-width="0.55"/>
<polyline points="117.4,43.7 125.6,30.4" stroke-width="0.55"/>
<polyline points="47.6,111.2 62.4,98.0" stroke-width="0.55"/>
<polyline points="78.0,97.7 86.3,84.0" stroke-width="0.55"/>
<polyline points="49.9,93.8 69.9,53.3" stroke-width="0.55"/>
<polyline points="38.9,81.9 57.6,58.6" stroke-width="0.55"/>
<polyline points="104.0,73.8 120.3,89.5" stroke-width="0.55"/>
<polyline points="27.6,84.3 58.2,121.5" stroke-width="0.55"/>
<polyline points="37.0,55.3 65.0,87.3" stroke-width="0.55"/>
<polyline points="49.6,83.0 72.9,58.5" stroke-width="0.55"/>
<polyline points="64.1,89.3 80.0,102.5" stroke-width="0.55"/>
<polyline points="3.2,45.1 38.3,79.2" stroke-width="0.55"/>
<polyline points="22.4,57.4 43.6,89.2" stroke-width="0.55"/>
<polyline points="63.5,73.1 94.6,101.5" stroke-width="0.55"/>
<polyline points="107.1,78.3 128.5,48.5" stroke-width="0.55"/>
<polyline points="75.8,55.5 89.2,68.3" stroke-width="0.55"/>
<polyline points="150.2,78.0 109.2,116.4" stroke-width="0.55"/>
<polyline points="69.0,131.0 95.8,164.2" stroke-width="0.55"/>
<polyline points="114.3,108.2 128.2,143.2" stroke-width="0.55"/>
<polyline points="106.5,42.3 92.6,63.1" stroke-width="0.55"/>
<polyline points="70.6,101.7 89.0,126.5" stroke-width="0.55"/>
<polyline points="42.3,94.5 72.1,130.3" stroke-width="0.55"/>
<polyline points="66.3,89.2 83.0,77.2" stroke-width="0.55"/>
<polyline points="66.0,129.6 76.3,142.6" stroke-width="0.55"/>
<polyline points="84.3,52.3 109.9,78.7" stroke-width="0.55"/>
<polyline points="23.6,71.2 52.7,100.3" stroke-width="0.55"/>
<polyline points="97.5,47.7 118.5,24.1" stroke-width="0.55"/>
<polyline points="78.5,56.5 114.0,87.5" stroke-width="0.55"/>
<polyline points="69.1,134.3 77.7,117.9" stroke-width="0.55"/>
<polyline points="110.5,79.1 139.2,124.7" stroke-width="0.55"/>
<polyline points="67.1,94.9 67.8,123.2" stroke-width="0.55"/>
<polyline points="94.2,32.2 128.3,71.6" stroke-width="0.55"/>
<polyline points="29.6,106.0 46.9,125.8" stroke-width="0.55"/>
<polyline points="84.4,105.7 109.1,83.0" stroke-width="0.55"/>
<polyline points="101.5,105.8 117.9,75.5" stroke-width="0.55"/>
<polyline points="19.0,126.4 27.3,136.4" stroke-width="0.55"/>
<polyline points="85.8,68.7 49.8,88.7" stroke-width="0.55"/>
<polyline points="41.4,124.2 93.3,129.2" stroke-width="0.55"/>
<polyline points="65.1,143.8 112.8,148.0" stroke-width="0.55"/>
<polyline points="89.1,57.7 54.1,83.1" stroke-width="0.55"/>
<polyline points="51.1,83.4 8.4,122.2" stroke-width="0.55"/>
<polyline points="23.7,72.4 43.9,92.2" stroke-width="0.55"/>
<polyline points="45.8,120.0 70.9,153.4" stroke-width="0.55"/>
<polyline points="55.6,108.4 70.7,98.6" stroke-width="0.55"/>
<polyline points="75.3,78.8 96.2,99.4" stroke-width="0.55"/>
<polyline points="76.3,64.9 93.0,85.9" stroke-width="0.55"/>
<polyline points="77.1,153.2 102.8,120.2" stroke-width="0.55"/>
<polyline points="36.5,55.9 70.0,83.8" stroke-width="0.55"/>
<polyline points="107.6,101.1 119.4,85.1" stroke-width="0.55"/>
<polyline points="52.0,44.0 86.1,83.8" stroke-width="0.55"/>
<polyline points="62.5,104.5 109.6,70.5" stroke-width="0.55"/>
<polyline points="54.9,97.4 72.9,74.3" stroke-width="0.55"/>
<polyline points="96.7,67.9 119.0,108.5" stroke-width="0.55"/>
<polyline points="99.6,105.8 139.8,143.8" stroke-width="0.55"/>
<polyline points="59.0,58.6 75.2,76.9" stroke-width="0.55"/>
<polyline points="31.4,138.4 55.8,108.6" stroke-width="0.55"/>
<polyline points="30.2,157.1 60.9,109.4" stroke-width="0.55"/>
<polyline points="97.2,105.1 114.2,87.3" stroke-width="0.55"/>
<polyline points="41.3,99.0 23.0,109.1" stroke-width="0.55"/>
<polyline points="65.8,60.8 84.9,85.5" stroke-width="0.55"/>
<polyline points="9.4,79.4 32.4,101.6" stroke-width="0.55"/>
<polyline points="86.2,74.4 132.1,112.3" stroke-width="0.55"/>
<polyline points="88.8,103.4 68.6,143.1" stroke-width="0.55"/>
<polyline points="77.2,63.9 117.9,79.3" stroke-width="0.55"/>
<polyline points="93.9,130.4 68.9,145.0" stroke-width="0.55"/>
<polyline points="79.0,76.6 109.0,51.2" stroke-width="0.55"/>
<polyline points="11.4,94.9 33.2,114.4" stroke-width="0.55"/>
<polyline points="7.6,87.3 41.4,45.3" stroke-width="0.55"/>
<polyline points="108.0,63.4 134.7,68.3" stroke-width="0.55"/>
<polyline points="69.9,86.6 23.6,104.2" stroke-width="0.55"/>
<polyline points="85.4,114.1 51.1,142.6" stroke-width="0.55"/>
<polyline points="34.0,84.2 55.1,65.5" stroke-width="0.55"/>
<polyline points="107.6,150.8 134.3,115.7" stroke-width="0.55"/>
<polyline points="88.0,97.1 67.2,124.6" stroke-width="0.55"/>
<polyline points="109.5,119.9 120.0,102.8" stroke-width="0.55"/>
<polyline points="61.3,128.3 83.9,153.3" stroke-width="0.55"/>
<polyline points="107.8,36.3 135.6,64.2" stroke-width="0.55"/>
<polyline points="96.9,110.9 105.1,99.4" stroke-width="0.55"/>
<polyline points="81.7,62.6 124.4,30.9" stroke-width="0.55"/>
<polyline points="52.9,37.9 23.6,87.4" stroke-width="0.55"/>
<polyline points="94.6,67.1 79.9,101.0" stroke-width="0.55"/>
<polyline points="115.2,24.2 128.0,37.8" stroke-width="0.55"/>
<polyline points="49.2,95.6 10.7,120.7" stroke-width="0.55"/>
<polyline points="14.7,63.4 64.7,67.4" stroke-width="0.55"/>
<polyline points="9.7,111.6 32.5,130.8" stroke-width="0.55"/>
<polyline points="34.2,78.1 43.7,124.7" stroke-width="0.55"/>
<polyline points="53.3,51.5 69.9,75.7" stroke-width="0.55"/>
<polyline points="32.3,93.4 69.0,133.7" stroke-width="0.55"/>
<polyline points="26.0,71.6 40.8,84.5" stroke-width="0.55"/>
<polyline points="88.9,147.2 103.2,119.9" stroke-width="0.55"/>
<polyline points="61.4,87.9 22.5,90.6" stroke-width="0.55"/>
<polyline points="46.5,66.9 67.2,84.6" stroke-width="0.55"/>
<polyline points="48.8,65.0 60.6,77.5" stroke-width="0.55"/>
<polyline points="23.3,145.6 63.0,101.8" stroke-width="0.55"/>
<polyline points="131.3,102.8 129.2,121.5" stroke-width="0.55"/>
<polyline points="108.6,149.1 120.8,132.2" stroke-width="0.55"/>
<polyline points="23.6,93.2 30.3,80.4" stroke-width="0.55"/>
<polyline points="59.6,78.8 74.9,80.8" stroke-width="0.55"/>
<polyline points="137.5,9.0 123.0,65.4" stroke-width="0.55"/>
<polyline points="65.9,150.5 82.1,114.2" stroke-width="0.55"/>
<polyline points="2.4,63.1 39.3,108.6" stroke-width="0.55"/>
<polyline points="95.4,44.4 126.3,83.0" stroke-width="0.55"/>
<polyline points="17.9,80.2 60.3,114.1" stroke-width="0.55"/>
<polyline points="139.8,110.3 121.1,116.9" stroke-width="0.55"/>
<polyline points="47.5,110.0 103.7,113.7" stroke-width="0.55"/>
<polyline points="26.3,154.8 36.9,132.9" stroke-width="0.55"/>
<polyline points="89.3,100.2 98.9,85.3" stroke-width="0.55"/>
<polyline points="114.1,31.0 126.5,43.9" stroke-width="0.55"/>
<polyline points="48.1,85.2 81.3,39.5" stroke-width="0.55"/>
<polyline points="75.4,103.9 89.5,120.7" stroke-width="0.55"/>
<polyline points="80.0,127.4 95.0,142.6" stroke-width="0.55"/>
<polyline points="69.0,63.3 99.6,100.6" stroke-width="0.55"/>
<polyline points="70.9,104.5 80.3,115.9" stroke-width="0.55"/>
<polyline points="94.2,64.5 127.4,102.9" stroke-width="0.55"/>
<polyline points="7.3,154.8 34.9,135.9" stroke-width="0.55"/>
<polyline points="10.0,56.4 39.7,86.6" stroke-width="0.55"/>
<polyline points="63.5,132.6 86.3,166.1" stroke-width="0.55"/>
<polyline points="96.6,51.1 130.4,95.8" stroke-width="0.55"/>
<polyline points="30.1,56.9 36.1,74.4" stroke-width="0.55"/>
<polyline points="82.9,134.1 97.7,137.2" stroke-width="0.55"/>
<polyline points="94.6,23.0 136.2,63.5" stroke-width="0.55"/>
<polyline points="120.1,90.4 132.8,73.7" stroke-width="0.55"/>
<polyline points="100.0,59.2 106.1,48.2" stroke-width="0.55"/>
<polyline points="70.8,112.1 82.3,98.6" stroke-width="0.55"/>
<polyline points="35.2,111.1 73.1,145.5" stroke-width="0.55"/>
<polyline points="59.7,111.2 73.1,87.1" stroke-width="0.55"/>
<polyline points="10.2,74.3 35.9,113.7" stroke-width="0.55"/>
<polyline points="37.2,90.0 23.0,107.6" stroke-width="0.55"/>
<polyline points="113.5,145.9 140.6,110.4" stroke-width="0.55"/>
<polyline points="66.4,150.8 80.8,125.6" stroke-width="0.55"/>
<polyline points="15.0,115.4 48.8,87.9" stroke-width="0.55"/>
<polyline points="54.6,100.5 100.1,72.1" stroke-width="0.55"/>
<polyline points="57.6,91.8 33.3,102.2" stroke-width="0.55"/>
<polyline points="85.0,72.5 118.6,51.0" stroke-width="0.55"/>
<polyline points="48.5,128.7 78.8,81.5" stroke-width="0.55"/>
<polyline points="53.6,125.7 101.8,98.2" stroke-width="0.55"/>
<polyline points="102.3,27.8 109.5,37.7" stroke-width="0.55"/>
<polyline points="55.8,78.9 94.6,124.6" stroke-width="0.55"/>
<polyline points="122.8,73.2 136.8,112.9" stroke-width="0.55"/>
<polyline points="47.4,154.3 68.5,119.9" stroke-width="0.55"/>
<polyline points="43.5,59.5 54.9,72.4" stroke-width="0.55"/>
<polyline points="115.9,50.7 144.6,14.5" stroke-width="0.55"/>
<polyline points="116.7,52.7 125.6,30.3" stroke-width="0.55"/>
<polyline points="63.4,66.3 89.0,95.3" stroke-width="0.55"/>
<polyline points="89.9,89.6 37.5,90.1" stroke-width="0.55"/>
<polyline points="59.7,96.3 99.3,66.9" stroke-width="0.55"/>
<polyline points="39.0,44.1 70.5,78.3" stroke-width="0.55"/>
<polyline points="74.2,61.0 91.5,80.8" stroke-width="0.55"/>
<polyline points="90.4,45.9 107.6,16.0" stroke-width="0.55"/>
<polyline points="11.0,58.5 43.3,108.7" stroke-width="0.55"/>
<polyline points="119.2,28.2 121.7,61.8" stroke-width="0.55"/>
<polyline points="33.0,96.6 45.1,109.0" stroke-width="0.55"/>
<polyline points="51.9,61.7 89.7,103.9" stroke-width="0.55"/>
<polyline points="43.1,58.9 78.6,98.1" stroke-width="0.55"/>
<polyline points="72.2,135.4 92.2,104.6" stroke-width="0.55"/>
<polyline points="80.5,123.0 95.0,98.0" stroke-width="0.55"/>
<polyline points="101.8,40.4 114.7,28.6" stroke-width="0.55"/>
<polyline points="53.6,117.4 93.4,77.8" stroke-width="0.55"/>
<polyline points="68.4,126.4 90.1,143.2" stroke-width="0.55"/>
<polyline points="59.2,95.5 67.8,106.0" stroke-width="0.55"/>
<polyline points="13.4,109.5 57.3,87.5" stroke-width="0.55"/>
<polyline points="82.2,27.3 113.3,75.6" stroke-width="0.55"/>
<polyline points="99.4,98.9 121.7,130.8" stroke-width="0.55"/>
<polyline points="62.1,111.2 93.2,146.8" stroke-width="0.55"/>
<polyline points="36.5,84.2 67.8,113.2" stroke-width="0.55"/>
<polyline points="82.3,155.6 125.2,117.3" stroke-width="0.55"/>
<polyline points="22.1,54.6 50.2,80.7" stroke-width="0.55"/>
<polyline points="29.2,115.4 56.3,130.9" stroke-width="0.55"/>
<polyline points="59.9,124.9 94.2,90.7" stroke-width="0.55"/>
<polyline points="88.7,87.1 73.7,96.2" stroke-width="0.55"/>
<polyline points="25.8,87.0 52.9,52.5" stroke-width="0.55"/>
<polyline points="46.3,102.7 79.8,140.3" stroke-width="0.55"/>
<polyline points="31.0,84.7 52.9,105.4" stroke-width="0.55"/>
<polyline points="23.7,80.3 31.9,108.1" stroke-width="0.55"/>
<polyline points="36.2,125.2 54.9,130.5" stroke-width="0.55"/>
<polyline points="106.0,58.9 115.7,14.1" stroke-width="0.55"/>
<polyline points="58.3,107.3 101.9,148.5" stroke-width="0.55"/>
<polyline points="40.3,76.4 59.2,95.4" stroke-width="0.55"/>
<polyline points="102.9,79.2 123.2,106.7" stroke-width="0.55"/>
<polyline points="35.9,108.2 51.0,127.6" stroke-width="0.55"/>
<polyline points="105.2,87.5 65.1,103.5" stroke-width="0.55"/>
<polyline points="29.9,90.6 43.1,103.2" stroke-width="0.55"/>
<polyline points="70.7,45.0 51.9,94.6" stroke-width="0.55"/>
<polyline points="52.8,51.6 82.9,78.4" stroke-width="0.55"/>
<polyline points="8.6,143.9 47.2,113.0" stroke-width="0.55"/>
<polyline points="31.4,95.1 40.0,104.1" stroke-width="0.55"/>
<polyline points="26.8,57.9 44.5,76.6" stroke-width="0.55"/>
<polyline points="31.5,128.1 53.6,103.5" stroke-width="0.55"/>
<polyline points="44.6,135.8 59.7,124.4" stroke-width="0.55"/>
<polyline points="82.9,63.2 89.3,75.6" stroke-width="0.55"/>
<polyline points="108.8,64.3 141.2,97.9" stroke-width="0.55"/>
<polyline points="78.6,110.0 119.7,76.2" stroke-width="0.55"/>
<polyline points="120.1,64.3 140.3,40.8" stroke-width="0.55"/>
<polyline points="48.5,66.3 72.1,95.0" stroke-width="0.55"/>
<polyline points="52.0,105.6 73.0,77.2" stroke-width="0.55"/>
<polyline points="51.8,105.1 63.4,116.6" stroke-width="0.55"/>
<polyline points="67.3,53.1 49.0,93.7" stroke-width="0.55"/>
<polyline points="24.4,98.8 44.4,58.0" stroke-width="0.55"/>
<polyline points="95.9,128.8 44.4,155.6" stroke-width="0.55"/>
<polyline points="25.9,95.2 48.0,60.1" stroke-width="0.55"/>
<polyline points="26.8,127.2 55.1,90.7" stroke-width="0.55"/>
<polyline points="91.2,54.8 103.1,66.6" stroke-width="0.55"/>
<polyline points="90.8,72.8 116.3,101.4" stroke-width="0.55"/>
<polyline points="18.7,96.6 43.0,117.6" stroke-width="0.55"/>
<polyline points="60.5,106.0 76.1,57.8" stroke-width="0.55"/>
<polyline points="86.7,65.8 41.3,83.0" stroke-width="0.55"/>
<polyline points="44.2,73.7 73.1,102.9" stroke-width="0.55"/>
<polyline points="25.9,87.4 70.3,118.6" stroke-width="0.55"/>
<polyline points="72.8,93.3 87.1,106.7" stroke-width="0.55"/>
<polyline points="56.9,89.7 78.8,115.2" stroke-width="0.55"/>
<polyline points="67.5,67.4 84.8,88.7" stroke-width="0.55"/>
<polyline points="112.7,71.0 151.2,113.1" stroke-width="0.55"/>
<polyline points="104.8,83.7 114.9,108.4" stroke-width="0.55"/>
<polyline points="121.2,96.1 108.4,106.7" stroke-width="0.55"/>
<polyline points="128.6,75.2 107.0,99.1" stroke-width="0.55"/>
<polyline points="95.5,75.5 126.2,48.7" stroke-width="0.55"/>
<polyline points="21.7,128.8 56.0,105.5" stroke-width="0.55"/>
<polyline points="89.6,97.2 142.0,123.3" stroke-width="0.55"/>
<polyline points="93.8,84.6 105.5,96.2" stroke-width="0.55"/>
</g>
</g></g>
<use href="#land" fill="#d3d3d3"/><polyline points="73.9,188.1 68.5,189.2 64.0,191.4 58.7,191.9 55.3,193.2" fill="none" stroke="#f4f4f4" stroke-width="0.6" stroke-linejoin="round"/><use href="#coast" fill="none" stroke="#3a3a3a" stroke-width="0.5" stroke-linejoin="round"/>
<g stroke="#9a9a9a" stroke-width="0.5" fill="none">
<path d="M0,20.3 V199.2 M6.1,219.6 H131.2"/>
<path d="M-2,20.3 H0"/>
<path d="M-2,109.8 H0"/>
<path d="M-2,199.2 H0"/>
<path d="M6.1,219.6 v2"/>
<path d="M68.7,219.6 v2"/>
<path d="M131.2,219.6 v2"/>
</g>
<g font-size="6.2" fill="#2a2a2a" stroke="#2a2a2a" stroke-width="0.18" text-anchor="middle">
<text x="6.6" y="228.2">68°W</text>
<text x="68.9" y="228.2">66°W</text>
<text x="131.2" y="228.2">64°W</text>
<text transform="translate(-5.4,20.3) rotate(-90)">44°S</text>
<text transform="translate(-5.4,109.8) rotate(-90)">46°S</text>
<text transform="translate(-5.4,199.2) rotate(-90)">48°S</text>
</g>
<text x="9.6" y="18.4" font-size="14" font-weight="bold" fill="#000">E</text>
<rect x="158.1" y="54.5" width="2.4" height="110" fill="url(#cbH)"/>
<g font-size="4" fill="#333">
<path d="M160.5,65.2 h1.6" stroke="#777" stroke-width="0.35"/>
<text x="165" y="66.6">14.3</text>
<path d="M160.5,76.5 h1.6" stroke="#777" stroke-width="0.35"/>
<text x="165" y="77.9">7.9</text>
<path d="M160.5,87.5 h1.6" stroke="#777" stroke-width="0.35"/>
<text x="165" y="88.9">5.2</text>
<path d="M160.5,98.8 h1.6" stroke="#777" stroke-width="0.35"/>
<text x="165" y="100.2">3.7</text>
<path d="M160.5,109.5 h1.6" stroke="#777" stroke-width="0.35"/>
<text x="165" y="110.9">2.8</text>
<path d="M160.5,120.8 h1.6" stroke="#777" stroke-width="0.35"/>
<text x="165" y="122.2">2.1</text>
<path d="M160.5,131.8 h1.6" stroke="#777" stroke-width="0.35"/>
<text x="165" y="133.2">1.7</text>
<path d="M160.5,142.8 h1.6" stroke="#777" stroke-width="0.35"/>
<text x="165" y="144.2">1.3</text>
<path d="M160.5,153.9 h1.6" stroke="#777" stroke-width="0.35"/>
<text x="165" y="155.3">0.9</text>
<path d="M160.5,164.2 h1.6" stroke="#777" stroke-width="0.35"/>
<text x="165" y="165.6">0</text>
</g>
</g>
</svg>
</body></html>
